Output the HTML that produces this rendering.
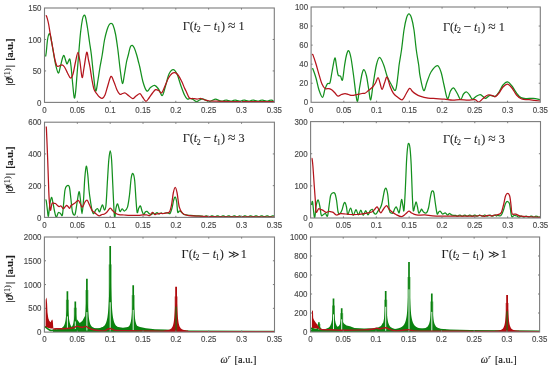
<!DOCTYPE html>
<html><head><meta charset="utf-8"><title>figure</title><style>
html,body{margin:0;padding:0;background:#fff;}
body{width:550px;height:369px;overflow:hidden;}
svg{display:block;}
.tk{font-family:"Liberation Sans",Arial,sans-serif;font-size:7.9px;fill:#4a4a4a;stroke:#4a4a4a;stroke-width:0.14px;}
.ann{font-family:"Liberation Serif","Times New Roman",serif;font-size:12.2px;fill:#1e1e1e;stroke:#1e1e1e;stroke-width:0.1px;}
.sub{font-size:7.8px;}
.mn{font-size:13.8px;}
.opa{font-size:13.6px;}
.opb{font-size:11px;stroke-width:0;}
.ysup{font-size:8.2px;stroke-width:0.1px;}
.xsup{font-size:6.6px;stroke-width:0.1px;}
.yl{font-family:"Liberation Serif","Times New Roman",serif;font-size:10.7px;fill:#1e1e1e;stroke:#1e1e1e;stroke-width:0.32px;}
.ylb{font-weight:bold;font-size:10.1px;stroke-width:0.1px;}
.xl{font-family:"Liberation Serif","Times New Roman",serif;font-size:10.3px;fill:#1e1e1e;stroke:#1e1e1e;stroke-width:0.2px;}
</style></head><body>
<svg width="550" height="369" viewBox="0 0 550 369">
<defs>
<clipPath id="c0"><rect x="44.50" y="6.00" width="229.80" height="96.40"/></clipPath>
<clipPath id="c1"><rect x="44.50" y="120.20" width="229.90" height="97.20"/></clipPath>
<clipPath id="c2"><rect x="44.40" y="235.00" width="230.10" height="97.10"/></clipPath>
<clipPath id="c3"><rect x="311.10" y="5.00" width="229.20" height="97.30"/></clipPath>
<clipPath id="c4"><rect x="310.60" y="119.60" width="229.90" height="98.40"/></clipPath>
<clipPath id="c5"><rect x="310.50" y="235.00" width="229.10" height="97.00"/></clipPath>
</defs>
<rect width="550" height="369" fill="#fff"/>
<path d="M45.60,56.50 C45.72,55.75 45.98,54.75 46.30,52.00 C46.62,49.25 47.05,43.00 47.50,40.00 C47.95,37.00 48.50,34.67 49.00,34.00 C49.50,33.33 49.83,33.33 50.50,36.00 C51.17,38.67 52.17,45.33 53.00,50.00 C53.83,54.67 54.62,60.17 55.50,64.00 C56.38,67.83 57.47,72.67 58.30,73.00 C59.13,73.33 59.80,68.50 60.50,66.00 C61.20,63.50 61.92,59.75 62.50,58.00 C63.08,56.25 63.50,55.17 64.00,55.50 C64.50,55.83 65.00,58.58 65.50,60.00 C66.00,61.42 66.50,63.83 67.00,64.00 C67.50,64.17 68.03,61.83 68.50,61.00 C68.97,60.17 69.38,58.17 69.80,59.00 C70.22,59.83 70.55,62.17 71.00,66.00 C71.45,69.83 71.97,76.75 72.50,82.00 C73.03,87.25 73.70,95.67 74.20,97.50 C74.70,99.33 75.03,96.75 75.50,93.00 C75.97,89.25 76.48,81.33 77.00,75.00 C77.52,68.67 78.02,62.00 78.60,55.00 C79.18,48.00 79.85,39.00 80.50,33.00 C81.15,27.00 81.92,21.95 82.50,19.00 C83.08,16.05 83.50,15.63 84.00,15.30 C84.50,14.97 84.92,14.88 85.50,17.00 C86.08,19.12 86.83,23.83 87.50,28.00 C88.17,32.17 88.85,37.50 89.50,42.00 C90.15,46.50 90.73,49.50 91.40,55.00 C92.07,60.50 92.78,69.00 93.50,75.00 C94.22,81.00 94.95,90.17 95.70,91.00 C96.45,91.83 97.28,84.00 98.00,80.00 C98.72,76.00 99.30,71.17 100.00,67.00 C100.70,62.83 101.45,59.50 102.20,55.00 C102.95,50.50 103.70,44.17 104.50,40.00 C105.30,35.83 106.25,32.50 107.00,30.00 C107.75,27.50 108.33,26.12 109.00,25.00 C109.67,23.88 110.33,23.30 111.00,23.30 C111.67,23.30 112.25,23.22 113.00,25.00 C113.75,26.78 114.75,30.33 115.50,34.00 C116.25,37.67 117.00,43.50 117.50,47.00 C118.00,50.50 118.00,50.83 118.50,55.00 C119.00,59.17 119.83,67.25 120.50,72.00 C121.17,76.75 121.83,83.17 122.50,83.50 C123.17,83.83 123.83,77.58 124.50,74.00 C125.17,70.42 125.87,65.17 126.50,62.00 C127.13,58.83 127.67,57.50 128.30,55.00 C128.93,52.50 129.63,48.60 130.30,47.00 C130.97,45.40 131.63,45.23 132.30,45.40 C132.97,45.57 133.57,46.40 134.30,48.00 C135.03,49.60 136.00,52.67 136.70,55.00 C137.40,57.33 137.95,59.83 138.50,62.00 C139.05,64.17 139.25,64.67 140.00,68.00 C140.75,71.33 141.87,78.17 143.00,82.00 C144.13,85.83 145.55,90.08 146.80,91.00 C148.05,91.92 149.18,88.43 150.50,87.50 C151.82,86.57 153.37,85.15 154.70,85.40 C156.03,85.65 157.23,87.32 158.50,89.00 C159.77,90.68 161.13,96.00 162.30,95.50 C163.47,95.00 164.38,89.58 165.50,86.00 C166.62,82.42 167.72,76.73 169.00,74.00 C170.28,71.27 171.87,69.60 173.20,69.60 C174.53,69.60 175.70,71.27 177.00,74.00 C178.30,76.73 179.75,82.50 181.00,86.00 C182.25,89.50 183.45,92.83 184.50,95.00 C185.55,97.17 186.38,98.42 187.30,99.00 C188.22,99.58 189.05,98.42 190.00,98.50 C190.95,98.58 191.90,98.98 193.00,99.50 C194.10,100.02 195.52,101.52 196.60,101.60 C197.68,101.68 198.53,100.45 199.50,100.00 C200.47,99.55 201.40,98.90 202.40,98.90 C203.40,98.90 204.40,99.55 205.50,100.00 C206.60,100.45 207.92,101.52 209.00,101.60 C210.08,101.68 210.92,100.90 212.00,100.50 C213.08,100.10 214.33,99.22 215.50,99.20 C216.67,99.18 218.33,100.17 219.00,100.40 C219.67,100.63 219.25,100.51 219.50,100.60 C219.75,100.69 220.17,100.84 220.50,100.92 C220.83,101.00 221.17,101.07 221.50,101.09 C221.83,101.11 222.17,101.09 222.50,101.03 C222.83,100.98 223.17,100.87 223.50,100.77 C223.83,100.67 224.17,100.53 224.50,100.43 C224.83,100.33 225.17,100.22 225.50,100.17 C225.83,100.11 226.17,100.09 226.50,100.11 C226.83,100.13 227.17,100.20 227.50,100.28 C227.83,100.36 228.17,100.49 228.50,100.60 C228.83,100.71 229.17,100.84 229.50,100.92 C229.83,101.00 230.17,101.07 230.50,101.09 C230.83,101.11 231.17,101.09 231.50,101.03 C231.83,100.98 232.17,100.87 232.50,100.77 C232.83,100.67 233.17,100.53 233.50,100.43 C233.83,100.33 234.17,100.22 234.50,100.17 C234.83,100.11 235.17,100.09 235.50,100.11 C235.83,100.13 236.17,100.20 236.50,100.28 C236.83,100.36 237.17,100.49 237.50,100.60 C237.83,100.71 238.17,100.84 238.50,100.92 C238.83,101.00 239.17,101.07 239.50,101.09 C239.83,101.11 240.17,101.09 240.50,101.03 C240.83,100.98 241.17,100.87 241.50,100.77 C241.83,100.67 242.17,100.53 242.50,100.43 C242.83,100.33 243.17,100.22 243.50,100.17 C243.83,100.11 244.17,100.09 244.50,100.11 C244.83,100.13 245.17,100.20 245.50,100.28 C245.83,100.36 246.17,100.49 246.50,100.60 C246.83,100.71 247.17,100.84 247.50,100.92 C247.83,101.00 248.17,101.07 248.50,101.09 C248.83,101.11 249.17,101.09 249.50,101.03 C249.83,100.98 250.17,100.87 250.50,100.77 C250.83,100.67 251.17,100.53 251.50,100.43 C251.83,100.33 252.17,100.22 252.50,100.17 C252.83,100.11 253.17,100.09 253.50,100.11 C253.83,100.13 254.17,100.20 254.50,100.28 C254.83,100.36 255.17,100.49 255.50,100.60 C255.83,100.71 256.17,100.84 256.50,100.92 C256.83,101.00 257.17,101.07 257.50,101.09 C257.83,101.11 258.17,101.09 258.50,101.03 C258.83,100.98 259.17,100.87 259.50,100.77 C259.83,100.67 260.17,100.53 260.50,100.43 C260.83,100.33 261.17,100.22 261.50,100.17 C261.83,100.11 262.17,100.09 262.50,100.11 C262.83,100.13 263.17,100.20 263.50,100.28 C263.83,100.36 264.17,100.49 264.50,100.60 C264.83,100.71 265.17,100.84 265.50,100.92 C265.83,101.00 266.17,101.07 266.50,101.09 C266.83,101.11 267.17,101.09 267.50,101.03 C267.83,100.98 268.17,100.87 268.50,100.77 C268.83,100.67 269.17,100.53 269.50,100.43 C269.83,100.33 270.17,100.22 270.50,100.17 C270.83,100.11 271.17,100.09 271.50,100.11 C271.83,100.13 272.17,100.20 272.50,100.28 C272.83,100.36 273.33,100.55 273.50,100.60" fill="none" stroke="#14901e" stroke-width="1.25" stroke-linejoin="round" clip-path="url(#c0)"/>
<path d="M46.00,15.20 C46.17,15.60 46.57,16.13 47.00,17.60 C47.43,19.07 48.00,20.93 48.60,24.00 C49.20,27.07 49.83,31.58 50.60,36.00 C51.37,40.42 52.47,46.50 53.20,50.50 C53.93,54.50 54.38,57.42 55.00,60.00 C55.62,62.58 56.23,65.00 56.90,66.00 C57.57,67.00 58.15,66.20 59.00,66.00 C59.85,65.80 61.08,64.63 62.00,64.80 C62.92,64.97 63.58,65.63 64.50,67.00 C65.42,68.37 66.50,71.17 67.50,73.00 C68.50,74.83 69.58,77.83 70.50,78.00 C71.42,78.17 72.17,76.67 73.00,74.00 C73.83,71.33 74.67,65.60 75.50,62.00 C76.33,58.40 77.25,52.40 78.00,52.40 C78.75,52.40 79.32,57.82 80.00,62.00 C80.68,66.18 81.43,76.50 82.10,77.50 C82.77,78.50 83.23,72.18 84.00,68.00 C84.77,63.82 85.95,53.73 86.70,52.40 C87.45,51.07 87.95,57.53 88.50,60.00 C89.05,62.47 89.42,63.87 90.00,67.20 C90.58,70.53 91.32,76.27 92.00,80.00 C92.68,83.73 93.27,87.27 94.10,89.60 C94.93,91.93 96.10,92.77 97.00,94.00 C97.90,95.23 98.63,96.27 99.50,97.00 C100.37,97.73 101.28,98.73 102.20,98.40 C103.12,98.07 104.03,97.23 105.00,95.00 C105.97,92.77 107.00,88.10 108.00,85.00 C109.00,81.90 110.00,76.90 111.00,76.40 C112.00,75.90 113.00,79.73 114.00,82.00 C115.00,84.27 116.03,87.95 117.00,90.00 C117.97,92.05 118.88,93.72 119.80,94.30 C120.72,94.88 121.60,93.72 122.50,93.50 C123.40,93.28 124.20,92.67 125.20,93.00 C126.20,93.33 127.25,94.57 128.50,95.50 C129.75,96.43 131.45,98.52 132.70,98.60 C133.95,98.68 134.78,96.83 136.00,96.00 C137.22,95.17 138.92,93.43 140.00,93.60 C141.08,93.77 141.52,95.72 142.50,97.00 C143.48,98.28 144.82,101.13 145.90,101.30 C146.98,101.47 147.90,99.38 149.00,98.00 C150.10,96.62 151.40,94.40 152.50,93.00 C153.60,91.60 154.60,90.02 155.60,89.60 C156.60,89.18 157.47,89.97 158.50,90.50 C159.53,91.03 160.72,93.55 161.80,92.80 C162.88,92.05 163.88,88.47 165.00,86.00 C166.12,83.53 167.33,80.08 168.50,78.00 C169.67,75.92 170.92,74.40 172.00,73.50 C173.08,72.60 174.00,72.35 175.00,72.60 C176.00,72.85 176.92,73.60 178.00,75.00 C179.08,76.40 180.42,78.83 181.50,81.00 C182.58,83.17 183.75,86.33 184.50,88.00 C185.25,89.67 185.20,89.35 186.00,91.00 C186.80,92.65 188.13,96.65 189.30,97.90 C190.47,99.15 191.72,98.32 193.00,98.50 C194.28,98.68 195.67,99.00 197.00,99.00 C198.33,99.00 199.67,98.33 201.00,98.50 C202.33,98.67 203.50,99.58 205.00,100.00 C206.50,100.42 207.50,100.78 210.00,101.00 C212.50,101.22 215.00,101.20 220.00,101.30 C225.00,101.40 230.95,101.55 240.00,101.60 C249.05,101.65 268.58,101.60 274.30,101.60" fill="none" stroke="#b4141c" stroke-width="1.25" stroke-linejoin="round" clip-path="url(#c0)"/>
<path d="M45.60,199.50 C45.72,199.77 46.00,199.35 46.30,201.10 C46.60,202.85 47.05,207.48 47.40,210.00 C47.75,212.52 47.98,217.20 48.40,216.20 C48.82,215.20 49.38,207.15 49.90,204.00 C50.42,200.85 50.98,197.47 51.50,197.30 C52.02,197.13 52.50,200.72 53.00,203.00 C53.50,205.28 53.97,208.63 54.50,211.00 C55.03,213.37 55.62,216.83 56.20,217.20 C56.78,217.57 57.55,213.98 58.00,213.20 C58.45,212.42 58.48,212.45 58.90,212.50 C59.32,212.55 59.93,213.02 60.50,213.50 C61.07,213.98 61.80,216.82 62.30,215.40 C62.80,213.98 63.05,209.23 63.50,205.00 C63.95,200.77 64.45,193.17 65.00,190.00 C65.55,186.83 66.08,186.53 66.80,186.00 C67.52,185.47 68.63,184.80 69.30,186.80 C69.97,188.80 70.27,193.80 70.80,198.00 C71.33,202.20 71.80,209.25 72.50,212.00 C73.20,214.75 74.25,216.00 75.00,214.50 C75.75,213.00 76.33,206.80 77.00,203.00 C77.67,199.20 78.42,192.20 79.00,191.70 C79.58,191.20 80.00,196.33 80.50,200.00 C81.00,203.67 81.50,213.70 82.00,213.70 C82.50,213.70 83.03,205.95 83.50,200.00 C83.97,194.05 84.33,183.63 84.80,178.00 C85.27,172.37 85.80,166.70 86.30,166.20 C86.80,165.70 87.35,171.03 87.80,175.00 C88.25,178.97 88.57,185.72 89.00,190.00 C89.43,194.28 89.90,197.37 90.40,200.70 C90.90,204.03 91.45,207.83 92.00,210.00 C92.55,212.17 93.08,213.70 93.70,213.70 C94.32,213.70 95.03,210.82 95.70,210.00 C96.37,209.18 97.07,208.47 97.70,208.80 C98.33,209.13 98.95,212.13 99.50,212.00 C100.05,211.87 100.48,209.17 101.00,208.00 C101.52,206.83 102.02,204.67 102.60,205.00 C103.18,205.33 103.93,210.00 104.50,210.00 C105.07,210.00 105.50,210.00 106.00,205.00 C106.50,200.00 107.03,187.50 107.50,180.00 C107.97,172.50 108.35,164.87 108.80,160.00 C109.25,155.13 109.73,150.80 110.20,150.80 C110.67,150.80 111.17,154.30 111.60,160.00 C112.03,165.70 112.32,175.53 112.80,185.00 C113.28,194.47 113.97,212.97 114.50,216.80 C115.03,220.63 115.47,210.15 116.00,208.00 C116.53,205.85 117.05,203.33 117.70,203.90 C118.35,204.47 119.17,210.58 119.90,211.40 C120.63,212.22 121.33,208.87 122.10,208.80 C122.87,208.73 123.60,211.28 124.50,211.00 C125.40,210.72 126.67,209.77 127.50,207.10 C128.33,204.43 128.88,199.85 129.50,195.00 C130.12,190.15 130.63,181.58 131.20,178.00 C131.77,174.42 132.33,173.17 132.90,173.50 C133.47,173.83 134.08,175.58 134.60,180.00 C135.12,184.42 135.57,194.58 136.00,200.00 C136.43,205.42 136.73,211.17 137.20,212.50 C137.67,213.83 138.25,209.08 138.80,208.00 C139.35,206.92 139.97,205.50 140.50,206.00 C141.03,206.50 141.47,209.55 142.00,211.00 C142.53,212.45 143.15,214.53 143.70,214.70 C144.25,214.87 144.75,212.55 145.30,212.00 C145.85,211.45 146.38,211.15 147.00,211.40 C147.62,211.65 148.28,212.95 149.00,213.50 C149.72,214.05 150.63,214.78 151.30,214.70 C151.97,214.62 152.38,213.12 153.00,213.00 C153.62,212.88 154.33,214.08 155.00,214.00 C155.67,213.92 156.33,212.50 157.00,212.50 C157.67,212.50 158.33,213.92 159.00,214.00 C159.67,214.08 160.33,213.08 161.00,213.00 C161.67,212.92 162.25,213.50 163.00,213.50 C163.75,213.50 164.68,213.10 165.50,213.00 C166.32,212.90 167.15,212.82 167.90,212.90 C168.65,212.98 169.32,214.32 170.00,213.50 C170.68,212.68 171.38,210.25 172.00,208.00 C172.62,205.75 173.17,201.82 173.70,200.00 C174.23,198.18 174.70,196.77 175.20,197.10 C175.70,197.43 176.28,199.50 176.70,202.00 C177.12,204.50 177.23,210.60 177.70,212.10 C178.17,213.60 178.82,210.95 179.50,211.00 C180.18,211.05 181.05,211.82 181.80,212.40 C182.55,212.98 183.13,214.07 184.00,214.50 C184.87,214.93 185.88,214.85 187.00,215.00 C188.12,215.15 189.20,215.27 190.70,215.40 C192.20,215.53 194.10,215.67 196.00,215.80 C197.90,215.93 201.02,216.12 202.10,216.20 C203.18,216.28 202.32,216.23 202.50,216.30 C202.68,216.37 202.97,216.55 203.20,216.62 C203.43,216.70 203.67,216.75 203.90,216.75 C204.13,216.75 204.37,216.68 204.60,216.60 C204.83,216.53 205.07,216.38 205.30,216.27 C205.53,216.17 205.77,216.03 206.00,215.96 C206.23,215.89 206.47,215.84 206.70,215.85 C206.93,215.86 207.17,215.93 207.40,216.02 C207.63,216.10 207.87,216.24 208.10,216.35 C208.33,216.46 208.57,216.59 208.80,216.66 C209.03,216.72 209.27,216.76 209.50,216.75 C209.73,216.73 209.97,216.65 210.20,216.56 C210.43,216.48 210.67,216.33 210.90,216.22 C211.13,216.12 211.37,215.99 211.60,215.93 C211.83,215.87 212.07,215.84 212.30,215.86 C212.53,215.88 212.77,215.97 213.00,216.06 C213.23,216.15 213.47,216.30 213.70,216.40 C213.93,216.51 214.17,216.63 214.40,216.69 C214.63,216.74 214.87,216.76 215.10,216.74 C215.33,216.71 215.57,216.61 215.80,216.52 C216.03,216.43 216.27,216.28 216.50,216.17 C216.73,216.07 216.97,215.95 217.20,215.90 C217.43,215.85 217.67,215.84 217.90,215.87 C218.13,215.91 218.37,216.00 218.60,216.10 C218.83,216.20 219.07,216.35 219.30,216.45 C219.53,216.55 219.77,216.66 220.00,216.71 C220.23,216.75 220.47,216.76 220.70,216.72 C220.93,216.68 221.17,216.57 221.40,216.48 C221.63,216.38 221.87,216.22 222.10,216.12 C222.33,216.03 222.57,215.92 222.80,215.88 C223.03,215.84 223.27,215.85 223.50,215.89 C223.73,215.94 223.97,216.05 224.20,216.15 C224.43,216.25 224.67,216.40 224.90,216.50 C225.13,216.60 225.37,216.69 225.60,216.73 C225.83,216.76 226.07,216.75 226.30,216.70 C226.53,216.65 226.77,216.53 227.00,216.43 C227.23,216.32 227.47,216.17 227.70,216.08 C227.93,215.99 228.17,215.89 228.40,215.86 C228.63,215.84 228.87,215.86 229.10,215.91 C229.33,215.97 229.57,216.09 229.80,216.20 C230.03,216.30 230.27,216.45 230.50,216.54 C230.73,216.63 230.97,216.72 231.20,216.74 C231.43,216.76 231.67,216.73 231.90,216.67 C232.13,216.61 232.37,216.48 232.60,216.38 C232.83,216.27 233.07,216.12 233.30,216.04 C233.53,215.95 233.77,215.87 234.00,215.85 C234.23,215.84 234.47,215.88 234.70,215.94 C234.93,216.01 235.17,216.14 235.40,216.25 C235.63,216.36 235.87,216.50 236.10,216.58 C236.33,216.67 236.57,216.74 236.80,216.75 C237.03,216.76 237.27,216.71 237.50,216.64 C237.73,216.57 237.97,216.43 238.20,216.33 C238.43,216.22 238.67,216.07 238.90,216.00 C239.13,215.92 239.37,215.85 239.60,215.85 C239.83,215.85 240.07,215.90 240.30,215.98 C240.53,216.05 240.77,216.19 241.00,216.30 C241.23,216.41 241.47,216.55 241.70,216.62 C241.93,216.70 242.17,216.75 242.40,216.75 C242.63,216.75 242.87,216.68 243.10,216.60 C243.33,216.53 243.57,216.38 243.80,216.27 C244.03,216.17 244.27,216.03 244.50,215.96 C244.73,215.89 244.97,215.84 245.20,215.85 C245.43,215.86 245.67,215.93 245.90,216.02 C246.13,216.10 246.37,216.24 246.60,216.35 C246.83,216.46 247.07,216.59 247.30,216.66 C247.53,216.72 247.77,216.76 248.00,216.75 C248.23,216.73 248.47,216.65 248.70,216.56 C248.93,216.48 249.17,216.33 249.40,216.22 C249.63,216.12 249.87,215.99 250.10,215.93 C250.33,215.87 250.57,215.84 250.80,215.86 C251.03,215.88 251.27,215.97 251.50,216.06 C251.73,216.15 251.97,216.30 252.20,216.40 C252.43,216.51 252.67,216.63 252.90,216.69 C253.13,216.74 253.37,216.76 253.60,216.74 C253.83,216.71 254.07,216.61 254.30,216.52 C254.53,216.43 254.77,216.28 255.00,216.17 C255.23,216.07 255.47,215.95 255.70,215.90 C255.93,215.85 256.17,215.84 256.40,215.87 C256.63,215.91 256.87,216.00 257.10,216.10 C257.33,216.20 257.57,216.35 257.80,216.45 C258.03,216.55 258.27,216.66 258.50,216.71 C258.73,216.75 258.97,216.76 259.20,216.72 C259.43,216.68 259.67,216.57 259.90,216.48 C260.13,216.38 260.37,216.22 260.60,216.12 C260.83,216.03 261.07,215.92 261.30,215.88 C261.53,215.84 261.77,215.85 262.00,215.89 C262.23,215.94 262.47,216.05 262.70,216.15 C262.93,216.25 263.17,216.40 263.40,216.50 C263.63,216.60 263.87,216.69 264.10,216.73 C264.33,216.76 264.57,216.75 264.80,216.70 C265.03,216.65 265.27,216.53 265.50,216.43 C265.73,216.32 265.97,216.17 266.20,216.08 C266.43,215.99 266.67,215.89 266.90,215.86 C267.13,215.84 267.37,215.86 267.60,215.91 C267.83,215.97 268.07,216.09 268.30,216.20 C268.53,216.30 268.77,216.45 269.00,216.54 C269.23,216.63 269.47,216.72 269.70,216.74 C269.93,216.76 270.17,216.73 270.40,216.67 C270.63,216.61 270.87,216.48 271.10,216.38 C271.33,216.27 271.57,216.12 271.80,216.04 C272.03,215.95 272.27,215.87 272.50,215.85 C272.73,215.84 272.97,215.88 273.20,215.94 C273.43,216.01 273.78,216.20 273.90,216.25" fill="none" stroke="#14901e" stroke-width="1.25" stroke-linejoin="round" clip-path="url(#c1)"/>
<path d="M46.10,126.60 C46.15,126.92 46.23,125.43 46.40,128.50 C46.57,131.57 46.88,139.75 47.10,145.00 C47.32,150.25 47.48,154.17 47.70,160.00 C47.92,165.83 48.17,173.67 48.40,180.00 C48.63,186.33 48.77,192.97 49.10,198.00 C49.43,203.03 49.92,209.28 50.40,210.20 C50.88,211.12 51.40,204.65 52.00,203.50 C52.60,202.35 53.42,203.30 54.00,203.30 C54.58,203.30 54.92,203.13 55.50,203.50 C56.08,203.87 56.88,204.98 57.50,205.50 C58.12,206.02 58.62,206.52 59.20,206.60 C59.78,206.68 60.30,205.65 61.00,206.00 C61.70,206.35 62.73,208.53 63.40,208.70 C64.07,208.87 64.45,207.55 65.00,207.00 C65.55,206.45 66.20,205.48 66.70,205.40 C67.20,205.32 67.53,206.02 68.00,206.50 C68.47,206.98 69.00,208.47 69.50,208.30 C70.00,208.13 70.58,206.05 71.00,205.50 C71.42,204.95 71.33,205.42 72.00,205.00 C72.67,204.58 73.97,203.78 75.00,203.00 C76.03,202.22 77.28,200.13 78.20,200.30 C79.12,200.47 79.82,202.85 80.50,204.00 C81.18,205.15 81.55,207.53 82.30,207.20 C83.05,206.87 84.18,203.15 85.00,202.00 C85.82,200.85 86.45,199.80 87.20,200.30 C87.95,200.80 88.70,203.32 89.50,205.00 C90.30,206.68 91.17,209.15 92.00,210.40 C92.83,211.65 93.68,211.82 94.50,212.50 C95.32,213.18 96.10,213.95 96.90,214.50 C97.70,215.05 98.45,215.80 99.30,215.80 C100.15,215.80 101.13,214.80 102.00,214.50 C102.87,214.20 103.67,214.42 104.50,214.00 C105.33,213.58 106.05,212.97 107.00,212.00 C107.95,211.03 109.28,208.45 110.20,208.20 C111.12,207.95 111.78,209.78 112.50,210.50 C113.22,211.22 113.45,211.80 114.50,212.50 C115.55,213.20 117.22,214.28 118.80,214.70 C120.38,215.12 122.13,214.90 124.00,215.00 C125.87,215.10 127.62,215.25 130.00,215.30 C132.38,215.35 136.13,215.38 138.30,215.30 C140.47,215.22 141.55,214.85 143.00,214.80 C144.45,214.75 145.83,214.90 147.00,215.00 C148.17,215.10 149.10,215.83 150.00,215.40 C150.90,214.97 151.65,212.55 152.40,212.40 C153.15,212.25 153.82,214.23 154.50,214.50 C155.18,214.77 155.62,214.18 156.50,214.00 C157.38,213.82 158.72,213.48 159.80,213.40 C160.88,213.32 161.92,213.58 163.00,213.50 C164.08,213.42 165.22,213.18 166.30,212.90 C167.38,212.62 168.63,213.12 169.50,211.80 C170.37,210.48 170.87,208.13 171.50,205.00 C172.13,201.87 172.68,195.93 173.30,193.00 C173.92,190.07 174.57,187.40 175.20,187.40 C175.83,187.40 176.42,189.70 177.10,193.00 C177.78,196.30 178.38,203.80 179.30,207.20 C180.22,210.60 181.23,212.03 182.60,213.40 C183.97,214.77 184.78,214.93 187.50,215.40 C190.22,215.87 193.48,215.95 198.90,216.20 C204.32,216.45 207.43,216.77 220.00,216.90 C232.57,217.03 265.25,216.98 274.30,217.00" fill="none" stroke="#b4141c" stroke-width="1.25" stroke-linejoin="round" clip-path="url(#c1)"/>
<path d="M312.30,68.20 C312.45,68.47 312.58,68.17 313.20,69.80 C313.82,71.43 315.03,74.63 316.00,78.00 C316.97,81.37 317.90,86.77 319.00,90.00 C320.10,93.23 321.60,97.57 322.60,97.40 C323.60,97.23 324.18,91.28 325.00,89.00 C325.82,86.72 326.67,84.75 327.50,83.70 C328.33,82.65 329.25,84.65 330.00,82.70 C330.75,80.75 331.20,76.12 332.00,72.00 C332.80,67.88 334.05,59.00 334.80,58.00 C335.55,57.00 335.95,63.15 336.50,66.00 C337.05,68.85 337.43,73.40 338.10,75.10 C338.77,76.80 339.77,75.38 340.50,76.20 C341.23,77.02 341.83,81.70 342.50,80.00 C343.17,78.30 343.83,70.17 344.50,66.00 C345.17,61.83 345.80,57.55 346.50,55.00 C347.20,52.45 347.95,50.20 348.70,50.70 C349.45,51.20 350.20,53.95 351.00,58.00 C351.80,62.05 352.48,67.82 353.50,75.00 C354.52,82.18 356.10,98.93 357.10,101.10 C358.10,103.27 358.68,92.52 359.50,88.00 C360.32,83.48 361.23,77.05 362.00,74.00 C362.77,70.95 363.35,69.37 364.10,69.70 C364.85,70.03 365.77,72.95 366.50,76.00 C367.23,79.05 367.80,84.02 368.50,88.00 C369.20,91.98 369.95,100.40 370.70,99.90 C371.45,99.40 372.05,90.82 373.00,85.00 C373.95,79.18 375.30,69.60 376.40,65.00 C377.50,60.40 378.38,57.40 379.60,57.40 C380.82,57.40 382.42,61.77 383.70,65.00 C384.98,68.23 386.08,73.63 387.30,76.80 C388.52,79.97 389.63,81.77 391.00,84.00 C392.37,86.23 394.33,91.70 395.50,90.20 C396.67,88.70 397.40,79.20 398.00,75.00 C398.60,70.80 398.52,69.17 399.10,65.00 C399.68,60.83 400.68,55.83 401.50,50.00 C402.32,44.17 403.17,35.33 404.00,30.00 C404.83,24.67 405.68,20.68 406.50,18.00 C407.32,15.32 408.07,13.90 408.90,13.90 C409.73,13.90 410.65,15.32 411.50,18.00 C412.35,20.68 413.20,24.67 414.00,30.00 C414.80,35.33 415.52,44.17 416.30,50.00 C417.08,55.83 418.08,60.72 418.70,65.00 C419.32,69.28 419.17,71.43 420.00,75.70 C420.83,79.97 422.53,89.55 423.70,90.60 C424.87,91.65 425.78,85.10 427.00,82.00 C428.22,78.90 429.28,74.73 431.00,72.00 C432.72,69.27 435.63,65.60 437.30,65.60 C438.97,65.60 439.88,68.77 441.00,72.00 C442.12,75.23 442.93,80.55 444.00,85.00 C445.07,89.45 446.32,97.70 447.40,98.70 C448.48,99.70 449.48,92.80 450.50,91.00 C451.52,89.20 452.42,87.57 453.50,87.90 C454.58,88.23 455.80,91.07 457.00,93.00 C458.20,94.93 459.62,99.33 460.70,99.50 C461.78,99.67 462.50,95.25 463.50,94.00 C464.50,92.75 465.70,91.83 466.70,92.00 C467.70,92.17 468.55,93.82 469.50,95.00 C470.45,96.18 471.32,98.85 472.40,99.10 C473.48,99.35 474.72,97.27 476.00,96.50 C477.28,95.73 478.93,94.50 480.10,94.50 C481.27,94.50 482.05,95.87 483.00,96.50 C483.95,97.13 484.65,98.50 485.80,98.30 C486.95,98.10 488.32,95.63 489.90,95.30 C491.48,94.97 493.78,96.85 495.30,96.30 C496.82,95.75 497.72,93.88 499.00,92.00 C500.28,90.12 501.58,86.70 503.00,85.00 C504.42,83.30 506.00,81.63 507.50,81.80 C509.00,81.97 510.50,84.13 512.00,86.00 C513.50,87.87 515.00,91.07 516.50,93.00 C518.00,94.93 519.35,96.67 521.00,97.60 C522.65,98.53 524.37,98.48 526.40,98.60 C528.43,98.72 530.88,98.12 533.20,98.30 C535.52,98.48 539.12,99.47 540.30,99.70" fill="none" stroke="#14901e" stroke-width="1.25" stroke-linejoin="round" clip-path="url(#c3)"/>
<path d="M312.20,54.00 C312.37,54.27 312.57,53.93 313.20,55.60 C313.83,57.27 314.97,60.62 316.00,64.00 C317.03,67.38 318.40,72.57 319.40,75.90 C320.40,79.23 321.05,81.88 322.00,84.00 C322.95,86.12 323.92,87.83 325.10,88.60 C326.28,89.37 327.95,88.37 329.10,88.60 C330.25,88.83 331.02,89.27 332.00,90.00 C332.98,90.73 333.98,91.97 335.00,93.00 C336.02,94.03 337.02,95.95 338.10,96.20 C339.18,96.45 340.33,94.95 341.50,94.50 C342.67,94.05 343.93,93.50 345.10,93.50 C346.27,93.50 347.37,94.18 348.50,94.50 C349.63,94.82 350.52,95.38 351.90,95.40 C353.28,95.42 355.12,94.92 356.80,94.60 C358.48,94.28 360.63,93.73 362.00,93.50 C363.37,93.27 363.92,93.70 365.00,93.20 C366.08,92.70 367.27,91.50 368.50,90.50 C369.73,89.50 371.23,88.45 372.40,87.20 C373.57,85.95 374.55,84.62 375.50,83.00 C376.45,81.38 377.35,77.50 378.10,77.50 C378.85,77.50 379.33,81.02 380.00,83.00 C380.67,84.98 381.35,89.40 382.10,89.40 C382.85,89.40 383.68,85.05 384.50,83.00 C385.32,80.95 386.08,76.60 387.00,77.10 C387.92,77.60 388.95,83.32 390.00,86.00 C391.05,88.68 392.05,91.37 393.30,93.20 C394.55,95.03 396.02,95.88 397.50,97.00 C398.98,98.12 400.78,100.40 402.20,99.90 C403.62,99.40 404.77,95.92 406.00,94.00 C407.23,92.08 408.52,88.82 409.60,88.40 C410.68,87.98 411.50,90.58 412.50,91.50 C413.50,92.42 414.35,93.13 415.60,93.90 C416.85,94.67 417.92,95.40 420.00,96.10 C422.08,96.80 425.43,97.68 428.10,98.10 C430.77,98.52 433.28,98.43 436.00,98.60 C438.72,98.77 441.65,98.85 444.40,99.10 C447.15,99.35 449.90,100.03 452.50,100.10 C455.10,100.17 457.42,99.50 460.00,99.50 C462.58,99.50 465.50,100.07 468.00,100.10 C470.50,100.13 473.20,99.37 475.00,99.70 C476.80,100.03 477.47,102.30 478.80,102.10 C480.13,101.90 481.48,99.68 483.00,98.50 C484.52,97.32 486.30,95.48 487.90,95.00 C489.50,94.52 491.37,95.32 492.60,95.60 C493.83,95.88 494.23,97.13 495.30,96.70 C496.37,96.27 497.72,94.62 499.00,93.00 C500.28,91.38 501.58,88.48 503.00,87.00 C504.42,85.52 506.00,83.93 507.50,84.10 C509.00,84.27 510.50,86.18 512.00,88.00 C513.50,89.82 514.88,93.17 516.50,95.00 C518.12,96.83 519.60,98.22 521.70,99.00 C523.80,99.78 526.00,99.37 529.10,99.70 C532.20,100.03 538.43,100.78 540.30,101.00" fill="none" stroke="#b4141c" stroke-width="1.25" stroke-linejoin="round" clip-path="url(#c3)"/>
<path d="M311.50,205.00 C311.68,204.50 312.10,199.88 312.60,202.00 C313.10,204.12 313.88,217.20 314.50,217.70 C315.12,218.20 315.70,207.98 316.30,205.00 C316.90,202.02 317.52,199.63 318.10,199.80 C318.68,199.97 319.27,203.42 319.80,206.00 C320.33,208.58 320.68,213.88 321.30,215.30 C321.92,216.72 322.80,214.80 323.50,214.50 C324.20,214.20 324.83,213.23 325.50,213.50 C326.17,213.77 326.88,217.52 327.50,216.10 C328.12,214.68 328.70,208.35 329.20,205.00 C329.70,201.65 330.02,197.95 330.50,196.00 C330.98,194.05 331.38,193.75 332.10,193.30 C332.82,192.85 334.07,192.18 334.80,193.30 C335.53,194.42 335.95,196.88 336.50,200.00 C337.05,203.12 337.52,209.75 338.10,212.00 C338.68,214.25 339.35,213.83 340.00,213.50 C340.65,213.17 341.38,211.58 342.00,210.00 C342.62,208.42 343.18,205.23 343.70,204.00 C344.22,202.77 344.63,202.10 345.10,202.60 C345.57,203.10 346.05,205.02 346.50,207.00 C346.95,208.98 347.12,214.33 347.80,214.50 C348.48,214.67 349.70,207.87 350.60,208.00 C351.50,208.13 352.30,215.03 353.20,215.30 C354.10,215.57 355.13,209.65 356.00,209.60 C356.87,209.55 357.60,214.92 358.40,215.00 C359.20,215.08 360.00,210.05 360.80,210.10 C361.60,210.15 362.38,215.20 363.20,215.30 C364.02,215.40 364.90,210.75 365.70,210.70 C366.50,210.65 367.28,214.95 368.00,215.00 C368.72,215.05 369.28,211.95 370.00,211.00 C370.72,210.05 371.63,208.97 372.30,209.30 C372.97,209.63 373.38,212.22 374.00,213.00 C374.62,213.78 375.33,214.33 376.00,214.00 C376.67,213.67 377.40,211.78 378.00,211.00 C378.60,210.22 379.02,210.30 379.60,209.30 C380.18,208.30 380.93,206.88 381.50,205.00 C382.07,203.12 382.48,200.50 383.00,198.00 C383.52,195.50 384.07,191.58 384.60,190.00 C385.13,188.42 385.67,187.67 386.20,188.50 C386.73,189.33 387.27,191.33 387.80,195.00 C388.33,198.67 388.83,207.50 389.40,210.50 C389.97,213.50 390.60,212.60 391.20,213.00 C391.80,213.40 392.43,213.57 393.00,212.90 C393.57,212.23 394.07,210.02 394.60,209.00 C395.13,207.98 395.68,206.63 396.20,206.80 C396.72,206.97 397.22,208.98 397.70,210.00 C398.18,211.02 398.67,213.40 399.10,212.90 C399.53,212.40 399.88,209.23 400.30,207.00 C400.72,204.77 401.18,199.83 401.60,199.50 C402.02,199.17 402.40,203.17 402.80,205.00 C403.20,206.83 403.58,213.00 404.00,210.50 C404.42,208.00 404.87,198.42 405.30,190.00 C405.73,181.58 406.18,167.33 406.60,160.00 C407.02,152.67 407.42,148.77 407.80,146.00 C408.18,143.23 408.53,143.07 408.90,143.40 C409.27,143.73 409.62,144.40 410.00,148.00 C410.38,151.60 410.82,157.17 411.20,165.00 C411.58,172.83 411.95,187.42 412.30,195.00 C412.65,202.58 412.88,208.67 413.30,210.50 C413.72,212.33 414.32,207.42 414.80,206.00 C415.28,204.58 415.75,201.83 416.20,202.00 C416.65,202.17 417.08,205.18 417.50,207.00 C417.92,208.82 418.20,212.23 418.70,212.90 C419.20,213.57 420.02,211.63 420.50,211.00 C420.98,210.37 421.10,208.93 421.60,209.10 C422.10,209.27 422.68,211.38 423.50,212.00 C424.32,212.62 425.67,213.47 426.50,212.80 C427.33,212.13 427.88,210.47 428.50,208.00 C429.12,205.53 429.70,200.67 430.20,198.00 C430.70,195.33 431.08,193.18 431.50,192.00 C431.92,190.82 432.30,190.73 432.70,190.90 C433.10,191.07 433.47,190.98 433.90,193.00 C434.33,195.02 434.77,199.55 435.30,203.00 C435.83,206.45 436.53,212.20 437.10,213.70 C437.67,215.20 438.17,212.42 438.70,212.00 C439.23,211.58 439.67,210.87 440.30,211.20 C440.93,211.53 441.68,213.73 442.50,214.00 C443.32,214.27 444.37,212.63 445.20,212.80 C446.03,212.97 446.75,214.88 447.50,215.00 C448.25,215.12 448.95,213.47 449.70,213.50 C450.45,213.53 450.98,214.90 452.00,215.20 C453.02,215.50 455.13,215.23 455.80,215.30 C456.47,215.37 455.85,215.47 456.00,215.60 C456.15,215.73 456.47,215.96 456.70,216.06 C456.93,216.16 457.17,216.22 457.40,216.19 C457.63,216.16 457.87,216.02 458.10,215.89 C458.33,215.75 458.57,215.52 458.80,215.38 C459.03,215.24 459.27,215.08 459.50,215.03 C459.73,214.98 459.97,215.01 460.20,215.09 C460.43,215.18 460.67,215.37 460.90,215.52 C461.13,215.68 461.37,215.90 461.60,216.01 C461.83,216.12 462.07,216.21 462.30,216.20 C462.53,216.19 462.77,216.08 463.00,215.95 C463.23,215.83 463.47,215.60 463.70,215.45 C463.93,215.30 464.17,215.12 464.40,215.06 C464.63,214.99 464.87,214.99 465.10,215.06 C465.33,215.12 465.57,215.30 465.80,215.45 C466.03,215.60 466.27,215.83 466.50,215.95 C466.73,216.08 466.97,216.19 467.20,216.20 C467.43,216.21 467.67,216.12 467.90,216.01 C468.13,215.90 468.37,215.68 468.60,215.52 C468.83,215.37 469.07,215.18 469.30,215.09 C469.53,215.01 469.77,214.98 470.00,215.03 C470.23,215.08 470.47,215.24 470.70,215.38 C470.93,215.52 471.17,215.75 471.40,215.89 C471.63,216.02 471.87,216.16 472.10,216.19 C472.33,216.22 472.57,216.16 472.80,216.06 C473.03,215.96 473.27,215.75 473.50,215.60 C473.73,215.45 473.97,215.24 474.20,215.14 C474.43,215.04 474.67,214.98 474.90,215.01 C475.13,215.04 475.37,215.18 475.60,215.31 C475.83,215.45 476.07,215.68 476.30,215.82 C476.53,215.96 476.77,216.12 477.00,216.17 C477.23,216.22 477.47,216.19 477.70,216.11 C477.93,216.02 478.17,215.83 478.40,215.68 C478.63,215.52 478.87,215.30 479.10,215.19 C479.33,215.08 479.57,214.99 479.80,215.00 C480.03,215.01 480.27,215.12 480.50,215.25 C480.73,215.37 480.97,215.60 481.20,215.75 C481.43,215.90 481.67,216.08 481.90,216.14 C482.13,216.21 482.37,216.21 482.60,216.14 C482.83,216.08 483.07,215.90 483.30,215.75 C483.53,215.60 483.77,215.37 484.00,215.25 C484.23,215.12 484.47,215.01 484.70,215.00 C484.93,214.99 485.17,215.08 485.40,215.19 C485.63,215.30 485.87,215.52 486.10,215.68 C486.33,215.83 486.57,216.02 486.80,216.11 C487.03,216.19 487.27,216.22 487.50,216.17 C487.73,216.12 487.97,215.96 488.20,215.82 C488.43,215.68 488.67,215.45 488.90,215.31 C489.13,215.18 489.37,215.04 489.60,215.01 C489.83,214.98 490.07,215.04 490.30,215.14 C490.53,215.24 490.77,215.45 491.00,215.60 C491.23,215.75 491.47,215.96 491.70,216.06 C491.93,216.16 492.17,216.22 492.40,216.19 C492.63,216.16 492.87,216.02 493.10,215.89 C493.33,215.75 493.57,215.52 493.80,215.38 C494.03,215.24 494.27,215.08 494.50,215.03 C494.73,214.98 494.97,215.01 495.20,215.09 C495.43,215.18 495.67,215.37 495.90,215.52 C496.13,215.68 496.33,216.01 496.60,216.01 C496.87,216.01 496.75,215.60 497.50,215.50 C498.25,215.40 500.10,216.32 501.10,215.40 C502.10,214.48 502.77,211.98 503.50,210.00 C504.23,208.02 504.82,204.92 505.50,203.50 C506.18,202.08 506.92,201.42 507.60,201.50 C508.28,201.58 508.93,201.55 509.60,204.00 C510.27,206.45 510.87,214.28 511.60,216.20 C512.33,218.12 513.10,215.53 514.00,215.50 C514.90,215.47 516.42,215.82 517.00,216.00 C517.58,216.18 517.30,216.44 517.50,216.60 C517.70,216.76 517.97,216.90 518.20,216.99 C518.43,217.07 518.67,217.12 518.90,217.09 C519.13,217.07 519.37,216.95 519.60,216.84 C519.83,216.73 520.07,216.54 520.30,216.42 C520.53,216.30 520.77,216.16 521.00,216.12 C521.23,216.08 521.47,216.11 521.70,216.18 C521.93,216.25 522.17,216.41 522.40,216.54 C522.63,216.66 522.87,216.85 523.10,216.94 C523.33,217.04 523.57,217.11 523.80,217.10 C524.03,217.09 524.27,217.00 524.50,216.89 C524.73,216.79 524.97,216.60 525.20,216.48 C525.43,216.35 525.67,216.20 525.90,216.15 C526.13,216.09 526.37,216.09 526.60,216.15 C526.83,216.20 527.07,216.35 527.30,216.48 C527.53,216.60 527.77,216.79 528.00,216.89 C528.23,217.00 528.47,217.09 528.70,217.10 C528.93,217.11 529.17,217.04 529.40,216.94 C529.63,216.85 529.87,216.66 530.10,216.54 C530.33,216.41 530.57,216.25 530.80,216.18 C531.03,216.11 531.27,216.08 531.50,216.12 C531.73,216.16 531.97,216.30 532.20,216.42 C532.43,216.54 532.67,216.73 532.90,216.84 C533.13,216.95 533.37,217.07 533.60,217.09 C533.83,217.12 534.07,217.07 534.30,216.99 C534.53,216.90 534.77,216.73 535.00,216.60 C535.23,216.47 535.47,216.30 535.70,216.21 C535.93,216.13 536.17,216.08 536.40,216.11 C536.63,216.13 536.87,216.25 537.10,216.36 C537.33,216.47 537.57,216.66 537.80,216.78 C538.03,216.90 538.27,217.04 538.50,217.08 C538.73,217.12 538.97,217.09 539.20,217.02 C539.43,216.95 539.78,216.72 539.90,216.66" fill="none" stroke="#14901e" stroke-width="1.25" stroke-linejoin="round" clip-path="url(#c4)"/>
<path d="M311.80,158.30 C311.85,158.42 311.92,157.72 312.10,159.00 C312.28,160.28 312.55,161.67 312.90,166.00 C313.25,170.33 313.80,179.33 314.20,185.00 C314.60,190.67 314.98,195.50 315.30,200.00 C315.62,204.50 315.55,210.53 316.10,212.00 C316.65,213.47 317.87,209.22 318.60,208.80 C319.33,208.38 319.83,209.28 320.50,209.50 C321.17,209.72 321.70,209.62 322.60,210.10 C323.50,210.58 324.92,212.17 325.90,212.40 C326.88,212.63 327.65,211.60 328.50,211.50 C329.35,211.40 330.22,211.65 331.00,211.80 C331.78,211.95 332.28,211.87 333.20,212.40 C334.12,212.93 335.28,214.78 336.50,215.00 C337.72,215.22 339.02,213.87 340.50,213.70 C341.98,213.53 343.82,213.87 345.40,214.00 C346.98,214.13 348.10,214.42 350.00,214.50 C351.90,214.58 354.58,214.63 356.80,214.50 C359.02,214.37 361.43,213.98 363.30,213.70 C365.17,213.42 366.50,213.13 368.00,212.80 C369.50,212.47 371.13,212.33 372.30,211.70 C373.47,211.07 374.18,209.82 375.00,209.00 C375.82,208.18 376.53,206.63 377.20,206.80 C377.87,206.97 378.38,208.98 379.00,210.00 C379.62,211.02 380.15,213.07 380.90,212.90 C381.65,212.73 382.57,210.22 383.50,209.00 C384.43,207.78 385.58,205.60 386.50,205.60 C387.42,205.60 388.12,207.98 389.00,209.00 C389.88,210.02 390.63,210.78 391.80,211.70 C392.97,212.62 394.37,213.68 396.00,214.50 C397.63,215.32 400.02,216.68 401.60,216.60 C403.18,216.52 404.28,214.90 405.50,214.00 C406.72,213.10 407.90,211.37 408.90,211.20 C409.90,211.03 410.68,212.52 411.50,213.00 C412.32,213.48 412.72,213.73 413.80,214.10 C414.88,214.47 416.13,215.07 418.00,215.20 C419.87,215.33 421.95,214.75 425.00,214.90 C428.05,215.05 430.47,215.90 436.30,216.10 C442.13,216.30 453.55,216.08 460.00,216.10 C466.45,216.12 471.67,216.30 475.00,216.20 C478.33,216.10 478.50,215.48 480.00,215.50 C481.50,215.52 482.67,216.33 484.00,216.30 C485.33,216.27 486.67,215.38 488.00,215.30 C489.33,215.22 490.83,215.85 492.00,215.80 C493.17,215.75 494.03,215.20 495.00,215.00 C495.97,214.80 496.78,214.95 497.80,214.60 C498.82,214.25 500.15,214.50 501.10,212.90 C502.05,211.30 502.77,207.82 503.50,205.00 C504.23,202.18 504.82,197.93 505.50,196.00 C506.18,194.07 506.90,193.40 507.60,193.40 C508.30,193.40 509.13,194.07 509.70,196.00 C510.27,197.93 510.60,202.05 511.00,205.00 C511.40,207.95 511.32,212.18 512.10,213.70 C512.88,215.22 514.28,213.68 515.70,214.10 C517.12,214.52 518.22,215.75 520.60,216.20 C522.98,216.65 526.72,216.62 530.00,216.80 C533.28,216.98 538.58,217.22 540.30,217.30" fill="none" stroke="#b4141c" stroke-width="1.25" stroke-linejoin="round" clip-path="url(#c4)"/>
<g clip-path="url(#c2)">
<path d="M53.00,332.00 L53.00,330.20 L58.00,329.50 L62.00,328.80 L66.00,327.50 L70.00,327.50 L74.00,326.50 L76.00,320.00 L77.10,319.40 L79.70,322.90 L82.30,321.10 L85.00,315.90 L88.00,318.00 L89.00,324.00 L91.00,327.00 L95.00,328.20 L99.00,328.20 L103.00,327.00 L106.00,325.50 L114.00,325.50 L118.00,327.00 L123.00,327.80 L128.00,327.00 L131.00,325.50 L136.00,325.50 L140.00,327.00 L146.00,328.30 L155.00,329.20 L165.00,329.60 L175.00,330.00 L190.00,330.50 L274.30,330.80 L274.30,332.00 Z" fill="#0a820f"/>
<rect x="65.90" y="299.74" width="3.00" height="30.26" fill="#74bb74"/><path d="M53.40,331.50 L53.40,329.48 L53.77,329.46 L54.14,329.44 L54.50,329.41 L54.86,329.38 L55.22,329.36 L55.57,329.33 L55.92,329.29 L56.26,329.26 L56.61,329.22 L56.94,329.18 L57.27,329.14 L57.60,329.09 L57.93,329.04 L58.25,328.99 L58.56,328.94 L58.88,328.87 L59.18,328.81 L59.49,328.74 L59.79,328.66 L60.08,328.57 L60.37,328.48 L60.66,328.38 L60.94,328.27 L61.22,328.15 L61.49,328.02 L61.76,327.88 L62.02,327.72 L62.28,327.55 L62.53,327.35 L62.78,327.14 L63.03,326.90 L63.26,326.63 L63.50,326.34 L63.73,326.00 L63.95,325.63 L64.17,325.20 L64.38,324.73 L64.59,324.19 L64.79,323.57 L64.99,322.88 L65.18,322.08 L65.36,321.17 L65.54,320.14 L65.71,318.95 L65.88,317.60 L66.04,316.06 L66.19,314.33 L66.33,312.38 L66.47,310.23 L66.55,307.88 L66.55,305.38 L66.55,302.79 L66.55,300.21 L66.55,297.77 L66.55,295.60 L66.55,293.81 L66.55,292.50 L66.55,291.67 L66.55,291.28 L66.55,291.20 L68.25,291.20 L68.25,291.28 L68.25,291.67 L68.25,292.50 L68.25,293.81 L68.25,295.60 L68.25,297.77 L68.25,300.21 L68.25,302.79 L68.25,305.38 L68.25,307.88 L68.33,310.23 L68.47,312.38 L68.61,314.33 L68.76,316.06 L68.92,317.60 L69.09,318.95 L69.26,320.14 L69.44,321.17 L69.62,322.08 L69.81,322.88 L70.01,323.57 L70.21,324.19 L70.42,324.73 L70.63,325.20 L70.85,325.63 L71.07,326.00 L71.30,326.34 L71.54,326.63 L71.77,326.90 L72.02,327.14 L72.27,327.35 L72.52,327.55 L72.78,327.72 L73.04,327.88 L73.31,328.02 L73.58,328.15 L73.86,328.27 L74.14,328.38 L74.43,328.48 L74.72,328.57 L75.01,328.66 L75.31,328.74 L75.62,328.81 L75.92,328.87 L76.24,328.94 L76.55,328.99 L76.87,329.04 L77.20,329.09 L77.53,329.14 L77.86,329.18 L78.19,329.22 L78.54,329.26 L78.88,329.29 L79.23,329.33 L79.58,329.36 L79.94,329.38 L80.30,329.41 L80.66,329.44 L81.03,329.46 L81.40,329.48 L81.40,331.50 Z" fill="#0a820f"/><path d="M67.40,316.42 V330.50" stroke="#fff" stroke-width="0.90"/>
<rect x="73.80" y="307.69" width="3.00" height="22.31" fill="#74bb74"/><path d="M61.30,331.50 L61.30,329.62 L61.67,329.60 L62.04,329.58 L62.40,329.57 L62.76,329.55 L63.12,329.53 L63.47,329.50 L63.82,329.48 L64.16,329.45 L64.51,329.43 L64.84,329.40 L65.17,329.37 L65.50,329.33 L65.83,329.30 L66.15,329.26 L66.46,329.22 L66.78,329.17 L67.08,329.12 L67.39,329.07 L67.69,329.01 L67.98,328.95 L68.27,328.88 L68.56,328.81 L68.84,328.73 L69.12,328.64 L69.39,328.54 L69.66,328.44 L69.92,328.32 L70.18,328.19 L70.43,328.05 L70.68,327.89 L70.93,327.71 L71.16,327.52 L71.40,327.30 L71.63,327.05 L71.85,326.78 L72.07,326.47 L72.28,326.11 L72.49,325.72 L72.69,325.26 L72.89,324.75 L73.08,324.16 L73.26,323.49 L73.44,322.73 L73.61,321.86 L73.78,320.86 L73.94,319.73 L74.09,318.45 L74.23,317.01 L74.37,315.43 L74.45,313.69 L74.45,311.85 L74.45,309.94 L74.45,308.04 L74.45,306.24 L74.45,304.64 L74.45,303.33 L74.45,302.36 L74.45,301.75 L74.45,301.46 L74.45,301.40 L76.15,301.40 L76.15,301.46 L76.15,301.75 L76.15,302.36 L76.15,303.33 L76.15,304.64 L76.15,306.24 L76.15,308.04 L76.15,309.94 L76.15,311.85 L76.15,313.69 L76.23,315.43 L76.37,317.01 L76.51,318.45 L76.66,319.73 L76.82,320.86 L76.99,321.86 L77.16,322.73 L77.34,323.49 L77.52,324.16 L77.71,324.75 L77.91,325.26 L78.11,325.72 L78.32,326.11 L78.53,326.47 L78.75,326.78 L78.97,327.05 L79.20,327.30 L79.44,327.52 L79.67,327.71 L79.92,327.89 L80.17,328.05 L80.42,328.19 L80.68,328.32 L80.94,328.44 L81.21,328.54 L81.48,328.64 L81.76,328.73 L82.04,328.81 L82.33,328.88 L82.62,328.95 L82.91,329.01 L83.21,329.07 L83.52,329.12 L83.82,329.17 L84.14,329.22 L84.45,329.26 L84.77,329.30 L85.10,329.33 L85.43,329.37 L85.76,329.40 L86.09,329.43 L86.44,329.45 L86.78,329.48 L87.13,329.50 L87.48,329.53 L87.84,329.55 L88.20,329.57 L88.56,329.58 L88.93,329.60 L89.30,329.62 L89.30,331.50 Z" fill="#0a820f"/><path d="M75.30,321.42 V330.50" stroke="#fff" stroke-width="0.90"/>
<rect x="85.40" y="290.06" width="3.00" height="39.94" fill="#74bb74"/><path d="M72.90,331.50 L72.90,329.32 L73.27,329.29 L73.64,329.26 L74.00,329.22 L74.36,329.19 L74.72,329.15 L75.07,329.11 L75.42,329.07 L75.76,329.02 L76.11,328.97 L76.44,328.92 L76.77,328.86 L77.10,328.80 L77.43,328.74 L77.75,328.67 L78.06,328.60 L78.38,328.51 L78.68,328.43 L78.99,328.33 L79.29,328.23 L79.58,328.12 L79.87,328.00 L80.16,327.87 L80.44,327.72 L80.72,327.56 L80.99,327.39 L81.26,327.20 L81.52,326.99 L81.78,326.76 L82.03,326.51 L82.28,326.22 L82.53,325.91 L82.76,325.56 L83.00,325.16 L83.23,324.72 L83.45,324.23 L83.67,323.67 L83.88,323.04 L84.09,322.33 L84.29,321.52 L84.49,320.60 L84.68,319.55 L84.86,318.35 L85.04,316.98 L85.21,315.42 L85.38,313.64 L85.54,311.61 L85.69,309.32 L85.83,306.75 L85.97,303.91 L86.05,300.81 L86.05,297.51 L86.05,294.09 L86.05,290.69 L86.05,287.47 L86.05,284.60 L86.05,282.25 L86.05,280.51 L86.05,279.42 L86.05,278.91 L86.05,278.80 L87.75,278.80 L87.75,278.91 L87.75,279.42 L87.75,280.51 L87.75,282.25 L87.75,284.60 L87.75,287.47 L87.75,290.69 L87.75,294.09 L87.75,297.51 L87.75,300.81 L87.83,303.91 L87.97,306.75 L88.11,309.32 L88.26,311.61 L88.42,313.64 L88.59,315.42 L88.76,316.98 L88.94,318.35 L89.12,319.55 L89.31,320.60 L89.51,321.52 L89.71,322.33 L89.92,323.04 L90.13,323.67 L90.35,324.23 L90.57,324.72 L90.80,325.16 L91.04,325.56 L91.27,325.91 L91.52,326.22 L91.77,326.51 L92.02,326.76 L92.28,326.99 L92.54,327.20 L92.81,327.39 L93.08,327.56 L93.36,327.72 L93.64,327.87 L93.93,328.00 L94.22,328.12 L94.51,328.23 L94.81,328.33 L95.12,328.43 L95.42,328.51 L95.74,328.60 L96.05,328.67 L96.37,328.74 L96.70,328.80 L97.03,328.86 L97.36,328.92 L97.69,328.97 L98.04,329.02 L98.38,329.07 L98.73,329.11 L99.08,329.15 L99.44,329.19 L99.80,329.22 L100.16,329.26 L100.53,329.29 L100.90,329.32 L100.90,331.50 Z" fill="#0a820f"/><path d="M86.90,312.08 V330.50" stroke="#fff" stroke-width="0.90"/>
<rect x="108.70" y="264.40" width="3.00" height="65.60" fill="#74bb74"/><path d="M96.20,331.50 L96.20,328.88 L96.57,328.83 L96.94,328.78 L97.30,328.72 L97.66,328.67 L98.02,328.60 L98.37,328.54 L98.72,328.47 L99.06,328.39 L99.41,328.31 L99.74,328.23 L100.07,328.13 L100.40,328.04 L100.73,327.93 L101.05,327.82 L101.36,327.69 L101.68,327.56 L101.98,327.42 L102.29,327.26 L102.59,327.09 L102.88,326.91 L103.17,326.71 L103.46,326.50 L103.74,326.26 L104.02,326.00 L104.29,325.72 L104.56,325.40 L104.82,325.06 L105.08,324.68 L105.33,324.26 L105.58,323.80 L105.83,323.28 L106.06,322.70 L106.30,322.06 L106.53,321.33 L106.75,320.52 L106.97,319.61 L107.18,318.57 L107.39,317.40 L107.59,316.07 L107.79,314.56 L107.98,312.83 L108.16,310.87 L108.34,308.62 L108.51,306.05 L108.68,303.12 L108.84,299.79 L108.99,296.03 L109.13,291.82 L109.27,287.14 L109.35,282.05 L109.35,276.63 L109.35,271.02 L109.35,265.44 L109.35,260.14 L109.35,255.43 L109.35,251.56 L109.35,248.71 L109.35,246.92 L109.35,246.07 L109.35,245.90 L111.05,245.90 L111.05,246.07 L111.05,246.92 L111.05,248.71 L111.05,251.56 L111.05,255.43 L111.05,260.14 L111.05,265.44 L111.05,271.02 L111.05,276.63 L111.05,282.05 L111.13,287.14 L111.27,291.82 L111.41,296.03 L111.56,299.79 L111.72,303.12 L111.89,306.05 L112.06,308.62 L112.24,310.87 L112.42,312.83 L112.61,314.56 L112.81,316.07 L113.01,317.40 L113.22,318.57 L113.43,319.61 L113.65,320.52 L113.87,321.33 L114.10,322.06 L114.34,322.70 L114.57,323.28 L114.82,323.80 L115.07,324.26 L115.32,324.68 L115.58,325.06 L115.84,325.40 L116.11,325.72 L116.38,326.00 L116.66,326.26 L116.94,326.50 L117.23,326.71 L117.52,326.91 L117.81,327.09 L118.11,327.26 L118.42,327.42 L118.72,327.56 L119.04,327.69 L119.35,327.82 L119.67,327.93 L120.00,328.04 L120.33,328.13 L120.66,328.23 L120.99,328.31 L121.34,328.39 L121.68,328.47 L122.03,328.54 L122.38,328.60 L122.74,328.67 L123.10,328.72 L123.46,328.78 L123.83,328.83 L124.20,328.88 L124.20,331.50 Z" fill="#0a820f"/><path d="M110.20,302.25 V330.50" stroke="#fff" stroke-width="0.90"/>
<rect x="131.70" y="295.13" width="3.00" height="34.87" fill="#74bb74"/><path d="M119.20,331.50 L119.20,329.40 L119.57,329.38 L119.94,329.35 L120.30,329.32 L120.66,329.29 L121.02,329.26 L121.37,329.22 L121.72,329.19 L122.06,329.15 L122.41,329.10 L122.74,329.06 L123.07,329.01 L123.40,328.96 L123.73,328.90 L124.05,328.84 L124.36,328.77 L124.68,328.70 L124.98,328.63 L125.29,328.54 L125.59,328.46 L125.88,328.36 L126.17,328.25 L126.46,328.14 L126.74,328.01 L127.02,327.87 L127.29,327.72 L127.56,327.56 L127.82,327.37 L128.08,327.17 L128.33,326.95 L128.58,326.70 L128.83,326.43 L129.06,326.12 L129.30,325.78 L129.53,325.39 L129.75,324.96 L129.97,324.48 L130.18,323.93 L130.39,323.30 L130.59,322.60 L130.79,321.79 L130.98,320.88 L131.16,319.83 L131.34,318.63 L131.51,317.27 L131.68,315.71 L131.84,313.95 L131.99,311.95 L132.13,309.70 L132.27,307.22 L132.35,304.52 L132.35,301.63 L132.35,298.65 L132.35,295.68 L132.35,292.87 L132.35,290.37 L132.35,288.31 L132.35,286.79 L132.35,285.84 L132.35,285.39 L132.35,285.30 L134.05,285.30 L134.05,285.39 L134.05,285.84 L134.05,286.79 L134.05,288.31 L134.05,290.37 L134.05,292.87 L134.05,295.68 L134.05,298.65 L134.05,301.63 L134.05,304.52 L134.13,307.22 L134.27,309.70 L134.41,311.95 L134.56,313.95 L134.72,315.71 L134.89,317.27 L135.06,318.63 L135.24,319.83 L135.42,320.88 L135.61,321.79 L135.81,322.60 L136.01,323.30 L136.22,323.93 L136.43,324.48 L136.65,324.96 L136.87,325.39 L137.10,325.78 L137.34,326.12 L137.57,326.43 L137.82,326.70 L138.07,326.95 L138.32,327.17 L138.58,327.37 L138.84,327.56 L139.11,327.72 L139.38,327.87 L139.66,328.01 L139.94,328.14 L140.23,328.25 L140.52,328.36 L140.81,328.46 L141.11,328.54 L141.42,328.63 L141.72,328.70 L142.04,328.77 L142.35,328.84 L142.67,328.90 L143.00,328.96 L143.33,329.01 L143.66,329.06 L143.99,329.10 L144.34,329.15 L144.68,329.19 L145.03,329.22 L145.38,329.26 L145.74,329.29 L146.10,329.32 L146.46,329.35 L146.83,329.38 L147.20,329.40 L147.20,331.50 Z" fill="#0a820f"/><path d="M133.20,309.88 V330.50" stroke="#fff" stroke-width="0.90"/>
<path d="M44.60,326.60 C44.83,326.70 45.52,326.87 46.00,327.20 C46.48,327.53 46.92,328.15 47.50,328.60 C48.08,329.05 48.83,329.58 49.50,329.90 C50.17,330.22 50.83,330.45 51.50,330.50 C52.17,330.55 52.75,330.32 53.50,330.20 C54.25,330.08 55.58,329.87 56.00,329.80" fill="none" stroke="#0a820f" stroke-width="1.7"/>
<path d="M45.60,327.50 L45.70,300.00 L46.20,297.60 L46.70,299.00 L47.10,303.40 L47.50,312.50 L48.30,318.20 L49.40,321.00 L50.60,322.20 L51.70,319.90 L52.30,319.60 L52.80,321.00 L53.20,326.50 L53.40,328.60 L51.00,328.50 L48.50,328.00 L46.50,327.00 Z" fill="#b00a0e"/>
<rect x="174.60" y="296.45" width="3.00" height="34.55" fill="#d07070"/><path d="M164.10,332.50 L164.10,330.56 L164.42,330.54 L164.73,330.51 L165.05,330.48 L165.35,330.45 L165.66,330.42 L165.96,330.39 L166.26,330.35 L166.56,330.31 L166.85,330.27 L167.14,330.22 L167.42,330.17 L167.70,330.11 L167.98,330.05 L168.26,329.99 L168.53,329.91 L168.79,329.84 L169.06,329.75 L169.32,329.66 L169.57,329.55 L169.83,329.44 L170.08,329.31 L170.32,329.17 L170.56,329.01 L170.80,328.84 L171.03,328.65 L171.26,328.43 L171.49,328.19 L171.71,327.92 L171.93,327.61 L172.14,327.27 L172.35,326.88 L172.56,326.45 L172.76,325.95 L172.95,325.38 L173.14,324.74 L173.33,324.00 L173.51,323.16 L173.69,322.20 L173.86,321.10 L174.03,319.85 L174.19,318.43 L174.35,316.81 L174.50,314.99 L174.65,312.96 L174.79,310.72 L174.93,308.28 L175.06,305.67 L175.19,302.96 L175.20,300.21 L175.20,297.53 L175.20,295.01 L175.20,292.76 L175.20,290.85 L175.20,289.33 L175.20,288.21 L175.20,287.45 L175.20,287.00 L175.20,286.78 L175.20,286.71 L175.20,286.70 L177.00,286.70 L177.00,286.71 L177.00,286.78 L177.00,287.00 L177.00,287.45 L177.00,288.21 L177.00,289.33 L177.00,290.85 L177.00,292.76 L177.00,295.01 L177.00,297.53 L177.00,300.21 L177.01,302.96 L177.14,305.67 L177.27,308.28 L177.41,310.72 L177.55,312.96 L177.70,314.99 L177.85,316.81 L178.01,318.43 L178.17,319.85 L178.34,321.10 L178.51,322.20 L178.69,323.16 L178.87,324.00 L179.06,324.74 L179.25,325.38 L179.44,325.95 L179.64,326.45 L179.85,326.88 L180.06,327.27 L180.27,327.61 L180.49,327.92 L180.71,328.19 L180.94,328.43 L181.17,328.65 L181.40,328.84 L181.64,329.01 L181.88,329.17 L182.12,329.31 L182.37,329.44 L182.63,329.55 L182.88,329.66 L183.14,329.75 L183.41,329.84 L183.67,329.91 L183.94,329.99 L184.22,330.05 L184.50,330.11 L184.78,330.17 L185.06,330.22 L185.35,330.27 L185.64,330.31 L185.94,330.35 L186.24,330.39 L186.54,330.42 L186.85,330.45 L187.15,330.48 L187.47,330.51 L187.78,330.54 L188.10,330.56 L188.10,332.50 Z" fill="#b00a0e"/><path d="M176.10,306.63 V331.50" stroke="#0a820f" stroke-width="1.00"/>
<path d="M53.20,329.00 C53.67,328.97 54.53,328.85 56.00,328.80 C57.47,328.75 59.67,328.80 62.00,328.70 C64.33,328.60 68.00,328.40 70.00,328.20 C72.00,328.00 72.82,327.85 74.00,327.50 C75.18,327.15 76.10,326.18 77.10,326.10 C78.10,326.02 79.02,326.82 80.00,327.00 C80.98,327.18 82.02,327.30 83.00,327.20 C83.98,327.10 84.98,326.30 85.90,326.40 C86.82,326.50 87.62,327.35 88.50,327.80 C89.38,328.25 89.95,328.68 91.20,329.10 C92.45,329.52 94.53,330.02 96.00,330.30 C97.47,330.58 98.50,330.75 100.00,330.80 C101.50,330.85 103.67,330.90 105.00,330.60 C106.33,330.30 107.08,329.35 108.00,329.00 C108.92,328.65 109.67,328.40 110.50,328.50 C111.33,328.60 111.92,329.27 113.00,329.60 C114.08,329.93 114.17,330.32 117.00,330.50 C119.83,330.68 124.50,330.62 130.00,330.70 C135.50,330.78 143.33,330.92 150.00,331.00 C156.67,331.08 163.33,331.10 170.00,331.20 C176.67,331.30 172.62,331.52 190.00,331.60 C207.38,331.68 260.25,331.68 274.30,331.70" fill="none" stroke="#b4141c" stroke-width="1.4"/>
</g>
<g clip-path="url(#c5)">
<path d="M311.50,332.00 L311.50,329.00 L313.00,328.80 L316.00,329.50 L320.00,330.00 L324.00,329.50 L328.00,328.50 L331.00,327.00 L337.00,327.00 L339.00,326.00 L342.30,322.00 L342.90,322.30 L344.50,324.00 L346.60,325.40 L350.00,326.30 L354.50,328.10 L364.00,328.60 L373.50,328.30 L378.00,327.50 L381.00,326.00 L383.00,322.80 L389.00,327.50 L395.00,329.60 L402.00,328.50 L406.00,327.00 L412.00,327.00 L418.00,328.60 L425.00,328.30 L429.00,327.00 L435.00,327.00 L440.00,328.70 L450.00,329.60 L470.00,330.00 L540.30,330.40 L540.30,332.00 Z" fill="#0a820f"/>
<rect x="317.40" y="324.06" width="3.00" height="6.24" fill="#74bb74"/><path d="M304.90,331.80 L304.90,330.14 L305.27,330.14 L305.64,330.13 L306.00,330.12 L306.36,330.11 L306.72,330.11 L307.07,330.10 L307.42,330.09 L307.76,330.08 L308.11,330.07 L308.44,330.06 L308.77,330.05 L309.10,330.04 L309.43,330.02 L309.75,330.01 L310.06,330.00 L310.38,329.98 L310.68,329.96 L310.99,329.95 L311.29,329.93 L311.58,329.91 L311.87,329.88 L312.16,329.86 L312.44,329.83 L312.72,329.80 L312.99,329.77 L313.26,329.74 L313.52,329.70 L313.78,329.66 L314.03,329.62 L314.28,329.57 L314.53,329.51 L314.76,329.45 L315.00,329.39 L315.23,329.31 L315.45,329.23 L315.67,329.14 L315.88,329.04 L316.09,328.93 L316.29,328.80 L316.49,328.66 L316.68,328.50 L316.86,328.31 L317.04,328.11 L317.21,327.88 L317.38,327.62 L317.54,327.33 L317.69,327.00 L317.83,326.63 L317.97,326.23 L318.05,325.79 L318.05,325.32 L318.05,324.83 L318.05,324.32 L318.05,323.83 L318.05,323.37 L318.05,322.98 L318.05,322.66 L318.05,322.45 L318.05,322.33 L318.05,322.30 L319.75,322.30 L319.75,322.33 L319.75,322.45 L319.75,322.66 L319.75,322.98 L319.75,323.37 L319.75,323.83 L319.75,324.32 L319.75,324.83 L319.75,325.32 L319.75,325.79 L319.83,326.23 L319.97,326.63 L320.11,327.00 L320.26,327.33 L320.42,327.62 L320.59,327.88 L320.76,328.11 L320.94,328.31 L321.12,328.50 L321.31,328.66 L321.51,328.80 L321.71,328.93 L321.92,329.04 L322.13,329.14 L322.35,329.23 L322.57,329.31 L322.80,329.39 L323.04,329.45 L323.27,329.51 L323.52,329.57 L323.77,329.62 L324.02,329.66 L324.28,329.70 L324.54,329.74 L324.81,329.77 L325.08,329.80 L325.36,329.83 L325.64,329.86 L325.93,329.88 L326.22,329.91 L326.51,329.93 L326.81,329.95 L327.12,329.96 L327.42,329.98 L327.74,330.00 L328.05,330.01 L328.37,330.02 L328.70,330.04 L329.03,330.05 L329.36,330.06 L329.69,330.07 L330.04,330.08 L330.38,330.09 L330.73,330.10 L331.08,330.11 L331.44,330.11 L331.80,330.12 L332.16,330.13 L332.53,330.14 L332.90,330.14 L332.90,331.80 Z" fill="#0a820f"/><path d="M318.90,328.70 V330.80" stroke="#fff" stroke-width="0.90"/>
<rect x="332.00" y="305.50" width="3.00" height="24.80" fill="#74bb74"/><path d="M319.50,331.80 L319.50,329.67 L319.87,329.65 L320.24,329.62 L320.60,329.59 L320.96,329.56 L321.32,329.53 L321.67,329.50 L322.02,329.47 L322.36,329.43 L322.71,329.39 L323.04,329.35 L323.37,329.30 L323.70,329.26 L324.03,329.21 L324.35,329.15 L324.66,329.09 L324.98,329.03 L325.28,328.97 L325.59,328.89 L325.89,328.82 L326.18,328.73 L326.47,328.64 L326.76,328.55 L327.04,328.44 L327.32,328.33 L327.59,328.20 L327.86,328.07 L328.12,327.92 L328.38,327.76 L328.63,327.58 L328.88,327.38 L329.13,327.17 L329.36,326.93 L329.60,326.67 L329.83,326.38 L330.05,326.05 L330.27,325.69 L330.48,325.29 L330.69,324.84 L330.89,324.33 L331.09,323.76 L331.28,323.13 L331.46,322.40 L331.64,321.59 L331.81,320.67 L331.98,319.64 L332.14,318.48 L332.29,317.18 L332.43,315.73 L332.57,314.12 L332.65,312.38 L332.65,310.50 L332.65,308.54 L332.65,306.54 L332.65,304.59 L332.65,302.77 L332.65,301.19 L332.65,299.94 L332.65,299.08 L332.65,298.62 L332.65,298.50 L334.35,298.50 L334.35,298.62 L334.35,299.08 L334.35,299.94 L334.35,301.19 L334.35,302.77 L334.35,304.59 L334.35,306.54 L334.35,308.54 L334.35,310.50 L334.35,312.38 L334.43,314.12 L334.57,315.73 L334.71,317.18 L334.86,318.48 L335.02,319.64 L335.19,320.67 L335.36,321.59 L335.54,322.40 L335.72,323.13 L335.91,323.76 L336.11,324.33 L336.31,324.84 L336.52,325.29 L336.73,325.69 L336.95,326.05 L337.17,326.38 L337.40,326.67 L337.64,326.93 L337.87,327.17 L338.12,327.38 L338.37,327.58 L338.62,327.76 L338.88,327.92 L339.14,328.07 L339.41,328.20 L339.68,328.33 L339.96,328.44 L340.24,328.55 L340.53,328.64 L340.82,328.73 L341.11,328.82 L341.41,328.89 L341.72,328.97 L342.02,329.03 L342.34,329.09 L342.65,329.15 L342.97,329.21 L343.30,329.26 L343.63,329.30 L343.96,329.35 L344.29,329.39 L344.64,329.43 L344.98,329.47 L345.33,329.50 L345.68,329.53 L346.04,329.56 L346.40,329.59 L346.76,329.62 L347.13,329.65 L347.50,329.67 L347.50,331.80 Z" fill="#0a820f"/><path d="M333.50,314.40 V330.80" stroke="#fff" stroke-width="0.90"/>
<rect x="340.20" y="313.14" width="3.00" height="17.16" fill="#74bb74"/><path d="M327.70,331.80 L327.70,329.86 L328.07,329.85 L328.44,329.83 L328.80,329.81 L329.16,329.79 L329.52,329.77 L329.87,329.75 L330.22,329.72 L330.56,329.70 L330.91,329.67 L331.24,329.64 L331.57,329.61 L331.90,329.58 L332.23,329.54 L332.55,329.51 L332.86,329.47 L333.18,329.42 L333.48,329.38 L333.79,329.33 L334.09,329.27 L334.38,329.22 L334.67,329.15 L334.96,329.09 L335.24,329.01 L335.52,328.94 L335.79,328.85 L336.06,328.76 L336.32,328.65 L336.58,328.54 L336.83,328.42 L337.08,328.28 L337.33,328.13 L337.56,327.97 L337.80,327.79 L338.03,327.59 L338.25,327.36 L338.47,327.11 L338.68,326.83 L338.89,326.52 L339.09,326.17 L339.29,325.78 L339.48,325.34 L339.66,324.84 L339.84,324.28 L340.01,323.64 L340.18,322.93 L340.34,322.12 L340.49,321.22 L340.63,320.22 L340.77,319.11 L340.85,317.90 L340.85,316.60 L340.85,315.25 L340.85,313.86 L340.85,312.51 L340.85,311.25 L340.85,310.16 L340.85,309.30 L340.85,308.70 L340.85,308.38 L340.85,308.30 L342.55,308.30 L342.55,308.38 L342.55,308.70 L342.55,309.30 L342.55,310.16 L342.55,311.25 L342.55,312.51 L342.55,313.86 L342.55,315.25 L342.55,316.60 L342.55,317.90 L342.63,319.11 L342.77,320.22 L342.91,321.22 L343.06,322.12 L343.22,322.93 L343.39,323.64 L343.56,324.28 L343.74,324.84 L343.92,325.34 L344.11,325.78 L344.31,326.17 L344.51,326.52 L344.72,326.83 L344.93,327.11 L345.15,327.36 L345.37,327.59 L345.60,327.79 L345.84,327.97 L346.07,328.13 L346.32,328.28 L346.57,328.42 L346.82,328.54 L347.08,328.65 L347.34,328.76 L347.61,328.85 L347.88,328.94 L348.16,329.01 L348.44,329.09 L348.73,329.15 L349.02,329.22 L349.31,329.27 L349.61,329.33 L349.92,329.38 L350.22,329.42 L350.54,329.47 L350.85,329.51 L351.17,329.54 L351.50,329.58 L351.83,329.61 L352.16,329.64 L352.49,329.67 L352.84,329.70 L353.18,329.72 L353.53,329.75 L353.88,329.77 L354.24,329.79 L354.60,329.81 L354.96,329.83 L355.33,329.85 L355.70,329.86 L355.70,331.80 Z" fill="#0a820f"/><path d="M341.70,319.30 V330.80" stroke="#fff" stroke-width="0.90"/>
<rect x="384.20" y="299.72" width="3.00" height="30.58" fill="#74bb74"/><path d="M371.70,331.80 L371.70,329.52 L372.07,329.49 L372.44,329.46 L372.80,329.43 L373.16,329.39 L373.52,329.35 L373.87,329.31 L374.22,329.27 L374.56,329.23 L374.91,329.18 L375.24,329.13 L375.57,329.07 L375.90,329.01 L376.23,328.95 L376.55,328.88 L376.86,328.81 L377.18,328.74 L377.48,328.66 L377.79,328.57 L378.09,328.47 L378.38,328.37 L378.67,328.26 L378.96,328.14 L379.24,328.01 L379.52,327.87 L379.79,327.71 L380.06,327.55 L380.32,327.36 L380.58,327.16 L380.83,326.95 L381.08,326.70 L381.33,326.44 L381.56,326.15 L381.80,325.82 L382.03,325.46 L382.25,325.06 L382.47,324.62 L382.68,324.12 L382.89,323.57 L383.09,322.94 L383.29,322.24 L383.48,321.46 L383.66,320.57 L383.84,319.57 L384.01,318.43 L384.18,317.16 L384.34,315.73 L384.49,314.12 L384.63,312.33 L384.77,310.36 L384.85,308.21 L384.85,305.90 L384.85,303.48 L384.85,301.01 L384.85,298.60 L384.85,296.36 L384.85,294.42 L384.85,292.87 L384.85,291.81 L384.85,291.24 L384.85,291.10 L386.55,291.10 L386.55,291.24 L386.55,291.81 L386.55,292.87 L386.55,294.42 L386.55,296.36 L386.55,298.60 L386.55,301.01 L386.55,303.48 L386.55,305.90 L386.55,308.21 L386.63,310.36 L386.77,312.33 L386.91,314.12 L387.06,315.73 L387.22,317.16 L387.39,318.43 L387.56,319.57 L387.74,320.57 L387.92,321.46 L388.11,322.24 L388.31,322.94 L388.51,323.57 L388.72,324.12 L388.93,324.62 L389.15,325.06 L389.37,325.46 L389.60,325.82 L389.84,326.15 L390.07,326.44 L390.32,326.70 L390.57,326.95 L390.82,327.16 L391.08,327.36 L391.34,327.55 L391.61,327.71 L391.88,327.87 L392.16,328.01 L392.44,328.14 L392.73,328.26 L393.02,328.37 L393.31,328.47 L393.61,328.57 L393.92,328.66 L394.22,328.74 L394.54,328.81 L394.85,328.88 L395.17,328.95 L395.50,329.01 L395.83,329.07 L396.16,329.13 L396.49,329.18 L396.84,329.23 L397.18,329.27 L397.53,329.31 L397.88,329.35 L398.24,329.39 L398.60,329.43 L398.96,329.46 L399.33,329.49 L399.70,329.52 L399.70,331.80 Z" fill="#0a820f"/><path d="M385.70,306.78 V330.80" stroke="#fff" stroke-width="0.90"/>
<rect x="407.50" y="277.03" width="3.00" height="53.27" fill="#74bb74"/><path d="M395.00,331.80 L395.00,328.95 L395.37,328.89 L395.74,328.84 L396.10,328.78 L396.46,328.72 L396.82,328.65 L397.17,328.58 L397.52,328.51 L397.86,328.43 L398.21,328.34 L398.54,328.25 L398.87,328.16 L399.20,328.06 L399.53,327.95 L399.85,327.83 L400.16,327.71 L400.48,327.58 L400.78,327.43 L401.09,327.28 L401.39,327.11 L401.68,326.94 L401.97,326.74 L402.26,326.53 L402.54,326.31 L402.82,326.06 L403.09,325.80 L403.36,325.50 L403.62,325.19 L403.88,324.84 L404.13,324.46 L404.38,324.04 L404.63,323.57 L404.86,323.06 L405.10,322.50 L405.33,321.87 L405.55,321.18 L405.77,320.40 L405.98,319.54 L406.19,318.57 L406.39,317.48 L406.59,316.26 L406.78,314.89 L406.96,313.34 L407.14,311.60 L407.31,309.63 L407.48,307.41 L407.64,304.91 L407.79,302.11 L407.93,299.00 L408.07,295.56 L408.15,291.80 L408.15,287.78 L408.15,283.56 L408.15,279.27 L408.15,275.07 L408.15,271.17 L408.15,267.78 L408.15,265.09 L408.15,263.24 L408.15,262.25 L408.15,262.00 L409.85,262.00 L409.85,262.25 L409.85,263.24 L409.85,265.09 L409.85,267.78 L409.85,271.17 L409.85,275.07 L409.85,279.27 L409.85,283.56 L409.85,287.78 L409.85,291.80 L409.93,295.56 L410.07,299.00 L410.21,302.11 L410.36,304.91 L410.52,307.41 L410.69,309.63 L410.86,311.60 L411.04,313.34 L411.22,314.89 L411.41,316.26 L411.61,317.48 L411.81,318.57 L412.02,319.54 L412.23,320.40 L412.45,321.18 L412.67,321.87 L412.90,322.50 L413.14,323.06 L413.37,323.57 L413.62,324.04 L413.87,324.46 L414.12,324.84 L414.38,325.19 L414.64,325.50 L414.91,325.80 L415.18,326.06 L415.46,326.31 L415.74,326.53 L416.03,326.74 L416.32,326.94 L416.61,327.11 L416.91,327.28 L417.22,327.43 L417.52,327.58 L417.84,327.71 L418.15,327.83 L418.47,327.95 L418.80,328.06 L419.13,328.16 L419.46,328.25 L419.79,328.34 L420.14,328.43 L420.48,328.51 L420.83,328.58 L421.18,328.65 L421.54,328.72 L421.90,328.78 L422.26,328.84 L422.63,328.89 L423.00,328.95 L423.00,331.80 Z" fill="#0a820f"/><path d="M409.00,289.32 V330.80" stroke="#fff" stroke-width="0.90"/>
<rect x="430.30" y="301.52" width="3.00" height="28.78" fill="#74bb74"/><path d="M417.80,331.80 L417.80,329.57 L418.17,329.54 L418.54,329.51 L418.90,329.48 L419.26,329.44 L419.62,329.41 L419.97,329.37 L420.32,329.33 L420.66,329.29 L421.01,329.24 L421.34,329.20 L421.67,329.14 L422.00,329.09 L422.33,329.03 L422.65,328.97 L422.96,328.90 L423.28,328.83 L423.58,328.75 L423.89,328.67 L424.19,328.58 L424.48,328.48 L424.77,328.38 L425.06,328.27 L425.34,328.14 L425.62,328.01 L425.89,327.87 L426.16,327.71 L426.42,327.54 L426.68,327.35 L426.93,327.14 L427.18,326.92 L427.43,326.67 L427.66,326.39 L427.90,326.09 L428.13,325.75 L428.35,325.37 L428.57,324.95 L428.78,324.49 L428.99,323.96 L429.19,323.38 L429.39,322.72 L429.58,321.97 L429.76,321.14 L429.94,320.19 L430.11,319.13 L430.28,317.93 L430.44,316.58 L430.59,315.07 L430.73,313.39 L430.87,311.53 L430.95,309.50 L430.95,307.33 L430.95,305.05 L430.95,302.73 L430.95,300.46 L430.95,298.35 L430.95,296.52 L430.95,295.07 L430.95,294.07 L430.95,293.54 L430.95,293.40 L432.65,293.40 L432.65,293.54 L432.65,294.07 L432.65,295.07 L432.65,296.52 L432.65,298.35 L432.65,300.46 L432.65,302.73 L432.65,305.05 L432.65,307.33 L432.65,309.50 L432.73,311.53 L432.87,313.39 L433.01,315.07 L433.16,316.58 L433.32,317.93 L433.49,319.13 L433.66,320.19 L433.84,321.14 L434.02,321.97 L434.21,322.72 L434.41,323.38 L434.61,323.96 L434.82,324.49 L435.03,324.95 L435.25,325.37 L435.47,325.75 L435.70,326.09 L435.94,326.39 L436.17,326.67 L436.42,326.92 L436.67,327.14 L436.92,327.35 L437.18,327.54 L437.44,327.71 L437.71,327.87 L437.98,328.01 L438.26,328.14 L438.54,328.27 L438.83,328.38 L439.12,328.48 L439.41,328.58 L439.71,328.67 L440.02,328.75 L440.32,328.83 L440.64,328.90 L440.95,328.97 L441.27,329.03 L441.60,329.09 L441.93,329.14 L442.26,329.20 L442.59,329.24 L442.94,329.29 L443.28,329.33 L443.63,329.37 L443.98,329.41 L444.34,329.44 L444.70,329.48 L445.06,329.51 L445.43,329.54 L445.80,329.57 L445.80,331.80 Z" fill="#0a820f"/><path d="M431.80,311.85 V330.80" stroke="#fff" stroke-width="0.90"/>
<path d="M311.00,328.30 C311.33,328.38 312.25,328.58 313.00,328.80 C313.75,329.02 314.67,329.35 315.50,329.60 C316.33,329.85 317.08,330.17 318.00,330.30 C318.92,330.43 320.50,330.38 321.00,330.40" fill="none" stroke="#0a820f" stroke-width="1.7"/>
<path d="M311.90,328.00 L312.00,311.00 L312.50,310.20 L313.00,311.50 L313.20,318.00 L314.00,320.00 L315.50,322.30 L317.00,324.20 L318.00,325.80 L318.80,326.60 L319.20,328.60 L317.00,328.60 L314.00,328.20 Z" fill="#b00a0e"/>
<rect x="505.60" y="302.96" width="3.00" height="28.24" fill="#d07070"/><path d="M495.10,332.70 L495.10,330.84 L495.42,330.82 L495.73,330.80 L496.05,330.78 L496.35,330.75 L496.66,330.73 L496.96,330.70 L497.26,330.67 L497.56,330.64 L497.85,330.60 L498.14,330.56 L498.42,330.52 L498.70,330.48 L498.98,330.43 L499.26,330.37 L499.53,330.31 L499.79,330.25 L500.06,330.18 L500.32,330.10 L500.57,330.02 L500.83,329.92 L501.08,329.82 L501.32,329.70 L501.56,329.58 L501.80,329.43 L502.03,329.28 L502.26,329.10 L502.49,328.90 L502.71,328.68 L502.93,328.43 L503.14,328.15 L503.35,327.84 L503.56,327.48 L503.76,327.07 L503.95,326.61 L504.14,326.08 L504.33,325.48 L504.51,324.79 L504.69,324.01 L504.86,323.11 L505.03,322.09 L505.19,320.92 L505.35,319.61 L505.50,318.12 L505.65,316.46 L505.79,314.63 L505.93,312.63 L506.06,310.50 L506.19,308.29 L506.20,306.04 L506.20,303.85 L506.20,301.79 L506.20,299.95 L506.20,298.39 L506.20,297.15 L506.20,296.23 L506.20,295.61 L506.20,295.25 L506.20,295.07 L506.20,295.01 L506.20,295.00 L508.00,295.00 L508.00,295.01 L508.00,295.07 L508.00,295.25 L508.00,295.61 L508.00,296.23 L508.00,297.15 L508.00,298.39 L508.00,299.95 L508.00,301.79 L508.00,303.85 L508.00,306.04 L508.01,308.29 L508.14,310.50 L508.27,312.63 L508.41,314.63 L508.55,316.46 L508.70,318.12 L508.85,319.61 L509.01,320.92 L509.17,322.09 L509.34,323.11 L509.51,324.01 L509.69,324.79 L509.87,325.48 L510.06,326.08 L510.25,326.61 L510.44,327.07 L510.64,327.48 L510.85,327.84 L511.06,328.15 L511.27,328.43 L511.49,328.68 L511.71,328.90 L511.94,329.10 L512.17,329.28 L512.40,329.43 L512.64,329.58 L512.88,329.70 L513.12,329.82 L513.37,329.92 L513.63,330.02 L513.88,330.10 L514.14,330.18 L514.41,330.25 L514.67,330.31 L514.94,330.37 L515.22,330.43 L515.50,330.48 L515.78,330.52 L516.06,330.56 L516.35,330.60 L516.64,330.64 L516.94,330.67 L517.24,330.70 L517.54,330.73 L517.85,330.75 L518.15,330.78 L518.47,330.80 L518.78,330.82 L519.10,330.84 L519.10,332.70 Z" fill="#b00a0e"/><path d="M507.10,311.29 V331.70" stroke="#0a820f" stroke-width="1.00"/>
<path d="M319.10,328.80 C319.58,328.93 320.18,329.43 322.00,329.60 C323.82,329.77 326.17,329.70 330.00,329.80 C333.83,329.90 339.33,330.18 345.00,330.20 C350.67,330.22 359.50,330.05 364.00,329.90 C368.50,329.75 369.95,329.57 372.00,329.30 C374.05,329.03 374.97,328.38 376.30,328.30 C377.63,328.22 378.42,328.90 380.00,328.80 C381.58,328.70 384.20,327.60 385.80,327.70 C387.40,327.80 388.07,328.88 389.60,329.40 C391.13,329.92 392.93,330.63 395.00,330.80 C397.07,330.97 399.75,330.58 402.00,330.40 C404.25,330.22 406.83,329.68 408.50,329.70 C410.17,329.72 410.08,330.27 412.00,330.50 C413.92,330.73 412.00,330.97 420.00,331.10 C428.00,331.23 446.67,331.25 460.00,331.30 C473.33,331.35 486.62,331.35 500.00,331.40 C513.38,331.45 533.58,331.57 540.30,331.60" fill="none" stroke="#b4141c" stroke-width="1.4"/>
</g>
<rect x="44.50" y="8.00" width="229.80" height="94.40" fill="none" stroke="#7c7c7c" stroke-width="1.1"/>
<path d="M77.33,8.00 v1.6 M77.33,102.40 v-1.6" stroke="#7c7c7c" stroke-width="1"/>
<path d="M110.16,8.00 v1.6 M110.16,102.40 v-1.6" stroke="#7c7c7c" stroke-width="1"/>
<path d="M142.99,8.00 v1.6 M142.99,102.40 v-1.6" stroke="#7c7c7c" stroke-width="1"/>
<path d="M175.81,8.00 v1.6 M175.81,102.40 v-1.6" stroke="#7c7c7c" stroke-width="1"/>
<path d="M208.64,8.00 v1.6 M208.64,102.40 v-1.6" stroke="#7c7c7c" stroke-width="1"/>
<path d="M241.47,8.00 v1.6 M241.47,102.40 v-1.6" stroke="#7c7c7c" stroke-width="1"/>
<rect x="44.50" y="122.20" width="229.90" height="95.20" fill="none" stroke="#7c7c7c" stroke-width="1.1"/>
<path d="M77.34,122.20 v1.6 M77.34,217.40 v-1.6" stroke="#7c7c7c" stroke-width="1"/>
<path d="M110.19,122.20 v1.6 M110.19,217.40 v-1.6" stroke="#7c7c7c" stroke-width="1"/>
<path d="M143.03,122.20 v1.6 M143.03,217.40 v-1.6" stroke="#7c7c7c" stroke-width="1"/>
<path d="M175.87,122.20 v1.6 M175.87,217.40 v-1.6" stroke="#7c7c7c" stroke-width="1"/>
<path d="M208.71,122.20 v1.6 M208.71,217.40 v-1.6" stroke="#7c7c7c" stroke-width="1"/>
<path d="M241.56,122.20 v1.6 M241.56,217.40 v-1.6" stroke="#7c7c7c" stroke-width="1"/>
<rect x="44.40" y="237.00" width="230.10" height="95.10" fill="none" stroke="#7c7c7c" stroke-width="1.1"/>
<path d="M77.27,237.00 v1.6 M77.27,332.10 v-1.6" stroke="#7c7c7c" stroke-width="1"/>
<path d="M110.14,237.00 v1.6 M110.14,332.10 v-1.6" stroke="#7c7c7c" stroke-width="1"/>
<path d="M143.01,237.00 v1.6 M143.01,332.10 v-1.6" stroke="#7c7c7c" stroke-width="1"/>
<path d="M175.89,237.00 v1.6 M175.89,332.10 v-1.6" stroke="#7c7c7c" stroke-width="1"/>
<path d="M208.76,237.00 v1.6 M208.76,332.10 v-1.6" stroke="#7c7c7c" stroke-width="1"/>
<path d="M241.63,237.00 v1.6 M241.63,332.10 v-1.6" stroke="#7c7c7c" stroke-width="1"/>
<rect x="311.10" y="7.00" width="229.20" height="95.30" fill="none" stroke="#7c7c7c" stroke-width="1.1"/>
<path d="M343.84,7.00 v1.6 M343.84,102.30 v-1.6" stroke="#7c7c7c" stroke-width="1"/>
<path d="M376.59,7.00 v1.6 M376.59,102.30 v-1.6" stroke="#7c7c7c" stroke-width="1"/>
<path d="M409.33,7.00 v1.6 M409.33,102.30 v-1.6" stroke="#7c7c7c" stroke-width="1"/>
<path d="M442.07,7.00 v1.6 M442.07,102.30 v-1.6" stroke="#7c7c7c" stroke-width="1"/>
<path d="M474.81,7.00 v1.6 M474.81,102.30 v-1.6" stroke="#7c7c7c" stroke-width="1"/>
<path d="M507.56,7.00 v1.6 M507.56,102.30 v-1.6" stroke="#7c7c7c" stroke-width="1"/>
<rect x="310.60" y="121.60" width="229.90" height="96.40" fill="none" stroke="#7c7c7c" stroke-width="1.1"/>
<path d="M343.44,121.60 v1.6 M343.44,218.00 v-1.6" stroke="#7c7c7c" stroke-width="1"/>
<path d="M376.29,121.60 v1.6 M376.29,218.00 v-1.6" stroke="#7c7c7c" stroke-width="1"/>
<path d="M409.13,121.60 v1.6 M409.13,218.00 v-1.6" stroke="#7c7c7c" stroke-width="1"/>
<path d="M441.97,121.60 v1.6 M441.97,218.00 v-1.6" stroke="#7c7c7c" stroke-width="1"/>
<path d="M474.81,121.60 v1.6 M474.81,218.00 v-1.6" stroke="#7c7c7c" stroke-width="1"/>
<path d="M507.66,121.60 v1.6 M507.66,218.00 v-1.6" stroke="#7c7c7c" stroke-width="1"/>
<rect x="310.50" y="237.00" width="229.10" height="95.00" fill="none" stroke="#7c7c7c" stroke-width="1.1"/>
<path d="M343.23,237.00 v1.6 M343.23,332.00 v-1.6" stroke="#7c7c7c" stroke-width="1"/>
<path d="M375.96,237.00 v1.6 M375.96,332.00 v-1.6" stroke="#7c7c7c" stroke-width="1"/>
<path d="M408.69,237.00 v1.6 M408.69,332.00 v-1.6" stroke="#7c7c7c" stroke-width="1"/>
<path d="M441.41,237.00 v1.6 M441.41,332.00 v-1.6" stroke="#7c7c7c" stroke-width="1"/>
<path d="M474.14,237.00 v1.6 M474.14,332.00 v-1.6" stroke="#7c7c7c" stroke-width="1"/>
<path d="M506.87,237.00 v1.6 M506.87,332.00 v-1.6" stroke="#7c7c7c" stroke-width="1"/>
<text transform="translate(41.50,105.50) scale(1,1.13)" class="tk" text-anchor="end">0</text>
<path d="M44.50,70.93 h1.6 M274.30,70.93 h-1.6" stroke="#7c7c7c" stroke-width="1"/>
<text transform="translate(41.50,74.03) scale(1,1.13)" class="tk" text-anchor="end">50</text>
<path d="M44.50,39.47 h1.6 M274.30,39.47 h-1.6" stroke="#7c7c7c" stroke-width="1"/>
<text transform="translate(41.50,42.57) scale(1,1.13)" class="tk" text-anchor="end">100</text>
<text transform="translate(41.50,11.10) scale(1,1.13)" class="tk" text-anchor="end">150</text>
<text transform="translate(44.50,112.60) scale(1,1.13)" class="tk" text-anchor="middle">0</text>
<text transform="translate(77.33,112.60) scale(1,1.13)" class="tk" text-anchor="middle">0.05</text>
<text transform="translate(110.16,112.60) scale(1,1.13)" class="tk" text-anchor="middle">0.1</text>
<text transform="translate(142.99,112.60) scale(1,1.13)" class="tk" text-anchor="middle">0.15</text>
<text transform="translate(175.81,112.60) scale(1,1.13)" class="tk" text-anchor="middle">0.2</text>
<text transform="translate(208.64,112.60) scale(1,1.13)" class="tk" text-anchor="middle">0.25</text>
<text transform="translate(241.47,112.60) scale(1,1.13)" class="tk" text-anchor="middle">0.3</text>
<text transform="translate(274.30,112.60) scale(1,1.13)" class="tk" text-anchor="middle">0.35</text>
<text transform="translate(41.50,220.50) scale(1,1.13)" class="tk" text-anchor="end">0</text>
<path d="M44.50,185.67 h1.6 M274.40,185.67 h-1.6" stroke="#7c7c7c" stroke-width="1"/>
<text transform="translate(41.50,188.77) scale(1,1.13)" class="tk" text-anchor="end">200</text>
<path d="M44.50,153.93 h1.6 M274.40,153.93 h-1.6" stroke="#7c7c7c" stroke-width="1"/>
<text transform="translate(41.50,157.03) scale(1,1.13)" class="tk" text-anchor="end">400</text>
<text transform="translate(41.50,125.30) scale(1,1.13)" class="tk" text-anchor="end">600</text>
<text transform="translate(44.50,227.80) scale(1,1.13)" class="tk" text-anchor="middle">0</text>
<text transform="translate(77.34,227.80) scale(1,1.13)" class="tk" text-anchor="middle">0.05</text>
<text transform="translate(110.19,227.80) scale(1,1.13)" class="tk" text-anchor="middle">0.1</text>
<text transform="translate(143.03,227.80) scale(1,1.13)" class="tk" text-anchor="middle">0.15</text>
<text transform="translate(175.87,227.80) scale(1,1.13)" class="tk" text-anchor="middle">0.2</text>
<text transform="translate(208.71,227.80) scale(1,1.13)" class="tk" text-anchor="middle">0.25</text>
<text transform="translate(241.56,227.80) scale(1,1.13)" class="tk" text-anchor="middle">0.3</text>
<text transform="translate(274.40,227.80) scale(1,1.13)" class="tk" text-anchor="middle">0.35</text>
<text transform="translate(41.40,335.20) scale(1,1.13)" class="tk" text-anchor="end">0</text>
<path d="M44.40,308.33 h1.6 M274.50,308.33 h-1.6" stroke="#7c7c7c" stroke-width="1"/>
<text transform="translate(41.40,311.43) scale(1,1.13)" class="tk" text-anchor="end">500</text>
<path d="M44.40,284.55 h1.6 M274.50,284.55 h-1.6" stroke="#7c7c7c" stroke-width="1"/>
<text transform="translate(41.40,287.65) scale(1,1.13)" class="tk" text-anchor="end">1000</text>
<path d="M44.40,260.77 h1.6 M274.50,260.77 h-1.6" stroke="#7c7c7c" stroke-width="1"/>
<text transform="translate(41.40,263.88) scale(1,1.13)" class="tk" text-anchor="end">1500</text>
<text transform="translate(41.40,240.10) scale(1,1.13)" class="tk" text-anchor="end">2000</text>
<text transform="translate(44.40,341.90) scale(1,1.13)" class="tk" text-anchor="middle">0</text>
<text transform="translate(77.27,341.90) scale(1,1.13)" class="tk" text-anchor="middle">0.05</text>
<text transform="translate(110.14,341.90) scale(1,1.13)" class="tk" text-anchor="middle">0.1</text>
<text transform="translate(143.01,341.90) scale(1,1.13)" class="tk" text-anchor="middle">0.15</text>
<text transform="translate(175.89,341.90) scale(1,1.13)" class="tk" text-anchor="middle">0.2</text>
<text transform="translate(208.76,341.90) scale(1,1.13)" class="tk" text-anchor="middle">0.25</text>
<text transform="translate(241.63,341.90) scale(1,1.13)" class="tk" text-anchor="middle">0.3</text>
<text transform="translate(274.50,341.90) scale(1,1.13)" class="tk" text-anchor="middle">0.35</text>
<text transform="translate(308.10,105.40) scale(1,1.13)" class="tk" text-anchor="end">0</text>
<path d="M311.10,83.24 h1.6 M540.30,83.24 h-1.6" stroke="#7c7c7c" stroke-width="1"/>
<text transform="translate(308.10,86.34) scale(1,1.13)" class="tk" text-anchor="end">20</text>
<path d="M311.10,64.18 h1.6 M540.30,64.18 h-1.6" stroke="#7c7c7c" stroke-width="1"/>
<text transform="translate(308.10,67.28) scale(1,1.13)" class="tk" text-anchor="end">40</text>
<path d="M311.10,45.12 h1.6 M540.30,45.12 h-1.6" stroke="#7c7c7c" stroke-width="1"/>
<text transform="translate(308.10,48.22) scale(1,1.13)" class="tk" text-anchor="end">60</text>
<path d="M311.10,26.06 h1.6 M540.30,26.06 h-1.6" stroke="#7c7c7c" stroke-width="1"/>
<text transform="translate(308.10,29.16) scale(1,1.13)" class="tk" text-anchor="end">80</text>
<text transform="translate(308.10,10.10) scale(1,1.13)" class="tk" text-anchor="end">100</text>
<text transform="translate(311.10,112.50) scale(1,1.13)" class="tk" text-anchor="middle">0</text>
<text transform="translate(343.84,112.50) scale(1,1.13)" class="tk" text-anchor="middle">0.05</text>
<text transform="translate(376.59,112.50) scale(1,1.13)" class="tk" text-anchor="middle">0.1</text>
<text transform="translate(409.33,112.50) scale(1,1.13)" class="tk" text-anchor="middle">0.15</text>
<text transform="translate(442.07,112.50) scale(1,1.13)" class="tk" text-anchor="middle">0.2</text>
<text transform="translate(474.81,112.50) scale(1,1.13)" class="tk" text-anchor="middle">0.25</text>
<text transform="translate(507.56,112.50) scale(1,1.13)" class="tk" text-anchor="middle">0.3</text>
<text transform="translate(540.30,112.50) scale(1,1.13)" class="tk" text-anchor="middle">0.35</text>
<text transform="translate(307.60,221.10) scale(1,1.13)" class="tk" text-anchor="end">0</text>
<path d="M310.60,185.87 h1.6 M540.50,185.87 h-1.6" stroke="#7c7c7c" stroke-width="1"/>
<text transform="translate(307.60,188.97) scale(1,1.13)" class="tk" text-anchor="end">100</text>
<path d="M310.60,153.73 h1.6 M540.50,153.73 h-1.6" stroke="#7c7c7c" stroke-width="1"/>
<text transform="translate(307.60,156.83) scale(1,1.13)" class="tk" text-anchor="end">200</text>
<text transform="translate(307.60,124.70) scale(1,1.13)" class="tk" text-anchor="end">300</text>
<text transform="translate(310.60,228.40) scale(1,1.13)" class="tk" text-anchor="middle">0</text>
<text transform="translate(343.44,228.40) scale(1,1.13)" class="tk" text-anchor="middle">0.05</text>
<text transform="translate(376.29,228.40) scale(1,1.13)" class="tk" text-anchor="middle">0.1</text>
<text transform="translate(409.13,228.40) scale(1,1.13)" class="tk" text-anchor="middle">0.15</text>
<text transform="translate(441.97,228.40) scale(1,1.13)" class="tk" text-anchor="middle">0.2</text>
<text transform="translate(474.81,228.40) scale(1,1.13)" class="tk" text-anchor="middle">0.25</text>
<text transform="translate(507.66,228.40) scale(1,1.13)" class="tk" text-anchor="middle">0.3</text>
<text transform="translate(540.50,228.40) scale(1,1.13)" class="tk" text-anchor="middle">0.35</text>
<text transform="translate(307.50,335.10) scale(1,1.13)" class="tk" text-anchor="end">0</text>
<path d="M310.50,313.00 h1.6 M539.60,313.00 h-1.6" stroke="#7c7c7c" stroke-width="1"/>
<text transform="translate(307.50,316.10) scale(1,1.13)" class="tk" text-anchor="end">200</text>
<path d="M310.50,294.00 h1.6 M539.60,294.00 h-1.6" stroke="#7c7c7c" stroke-width="1"/>
<text transform="translate(307.50,297.10) scale(1,1.13)" class="tk" text-anchor="end">400</text>
<path d="M310.50,275.00 h1.6 M539.60,275.00 h-1.6" stroke="#7c7c7c" stroke-width="1"/>
<text transform="translate(307.50,278.10) scale(1,1.13)" class="tk" text-anchor="end">600</text>
<path d="M310.50,256.00 h1.6 M539.60,256.00 h-1.6" stroke="#7c7c7c" stroke-width="1"/>
<text transform="translate(307.50,259.10) scale(1,1.13)" class="tk" text-anchor="end">800</text>
<text transform="translate(307.50,240.10) scale(1,1.13)" class="tk" text-anchor="end">1000</text>
<text transform="translate(310.50,341.80) scale(1,1.13)" class="tk" text-anchor="middle">0</text>
<text transform="translate(343.23,341.80) scale(1,1.13)" class="tk" text-anchor="middle">0.05</text>
<text transform="translate(375.96,341.80) scale(1,1.13)" class="tk" text-anchor="middle">0.1</text>
<text transform="translate(408.69,341.80) scale(1,1.13)" class="tk" text-anchor="middle">0.15</text>
<text transform="translate(441.41,341.80) scale(1,1.13)" class="tk" text-anchor="middle">0.2</text>
<text transform="translate(474.14,341.80) scale(1,1.13)" class="tk" text-anchor="middle">0.25</text>
<text transform="translate(506.87,341.80) scale(1,1.13)" class="tk" text-anchor="middle">0.3</text>
<text transform="translate(539.60,341.80) scale(1,1.13)" class="tk" text-anchor="middle">0.35</text>
<text x="182.70" y="29.50" class="ann">Γ(<tspan font-style="italic">t</tspan><tspan class="sub" dx="-0.5" dy="2.4">2</tspan><tspan class="mn" dx="2.6" dy="-2.4">−</tspan><tspan font-style="italic" dx="2.8">t</tspan><tspan class="sub" dx="-0.5" dy="2.4">1</tspan><tspan dx="0.3" dy="-2.4">)</tspan><tspan class="opa" dx="3.0">≈</tspan><tspan dx="3.0">1</tspan></text>
<text x="443.00" y="30.50" class="ann">Γ(<tspan font-style="italic">t</tspan><tspan class="sub" dx="-0.5" dy="2.4">2</tspan><tspan class="mn" dx="2.6" dy="-2.4">−</tspan><tspan font-style="italic" dx="2.8">t</tspan><tspan class="sub" dx="-0.5" dy="2.4">1</tspan><tspan dx="0.3" dy="-2.4">)</tspan><tspan class="opa" dx="3.0">≈</tspan><tspan dx="3.0">1</tspan></text>
<text x="182.70" y="142.40" class="ann">Γ(<tspan font-style="italic">t</tspan><tspan class="sub" dx="-0.5" dy="2.4">2</tspan><tspan class="mn" dx="2.6" dy="-2.4">−</tspan><tspan font-style="italic" dx="2.8">t</tspan><tspan class="sub" dx="-0.5" dy="2.4">1</tspan><tspan dx="0.3" dy="-2.4">)</tspan><tspan class="opa" dx="3.0">≈</tspan><tspan dx="3.0">3</tspan></text>
<text x="443.00" y="142.60" class="ann">Γ(<tspan font-style="italic">t</tspan><tspan class="sub" dx="-0.5" dy="2.4">2</tspan><tspan class="mn" dx="2.6" dy="-2.4">−</tspan><tspan font-style="italic" dx="2.8">t</tspan><tspan class="sub" dx="-0.5" dy="2.4">1</tspan><tspan dx="0.3" dy="-2.4">)</tspan><tspan class="opa" dx="3.0">≈</tspan><tspan dx="3.0">3</tspan></text>
<text x="181.60" y="258.00" class="ann">Γ(<tspan font-style="italic">t</tspan><tspan class="sub" dx="-0.5" dy="2.4">2</tspan><tspan class="mn" dx="2.6" dy="-2.4">−</tspan><tspan font-style="italic" dx="2.8">t</tspan><tspan class="sub" dx="-0.5" dy="2.4">1</tspan><tspan dx="0.3" dy="-2.4">)</tspan><tspan class="opb" dx="4.2">≫</tspan><tspan dx="0.6">1</tspan></text>
<text x="441.60" y="258.00" class="ann">Γ(<tspan font-style="italic">t</tspan><tspan class="sub" dx="-0.5" dy="2.4">2</tspan><tspan class="mn" dx="2.6" dy="-2.4">−</tspan><tspan font-style="italic" dx="2.8">t</tspan><tspan class="sub" dx="-0.5" dy="2.4">1</tspan><tspan dx="0.3" dy="-2.4">)</tspan><tspan class="opb" dx="4.2">≫</tspan><tspan dx="0.6">1</tspan></text>
<g transform="translate(12.6,85.60) rotate(-90)"><text x="0" y="0" class="yl">|<tspan font-style="italic">ϑ</tspan><tspan class="ysup" dx="0.3" dy="-2.7">(1)</tspan><tspan dx="1.2" dy="2.7">|</tspan></text><text x="24.8" y="0" class="yl ylb">[a.u.]</text></g>
<g transform="translate(12.6,193.60) rotate(-90)"><text x="0" y="0" class="yl">|<tspan font-style="italic">ϑ</tspan><tspan class="ysup" dx="0.3" dy="-2.7">(1)</tspan><tspan dx="1.2" dy="2.7">|</tspan></text><text x="24.8" y="0" class="yl ylb">[a.u.]</text></g>
<g transform="translate(12.6,302.40) rotate(-90)"><text x="0" y="0" class="yl">|<tspan font-style="italic">ϑ</tspan><tspan class="ysup" dx="0.3" dy="-2.7">(1)</tspan><tspan dx="1.2" dy="2.7">|</tspan></text><text x="24.8" y="0" class="yl ylb">[a.u.]</text></g>
<text x="220.40" y="362.8" class="xl"><tspan font-style="italic">ω</tspan><tspan class="xsup" font-style="italic" dx="0.2" dy="-4">r</tspan></text><text x="234.60" y="362.8" class="xl">[a.u.]</text>
<text x="480.70" y="362.8" class="xl"><tspan font-style="italic">ω</tspan><tspan class="xsup" font-style="italic" dx="0.2" dy="-4">r</tspan></text><text x="494.90" y="362.8" class="xl">[a.u.]</text>
</svg>
</body></html>
